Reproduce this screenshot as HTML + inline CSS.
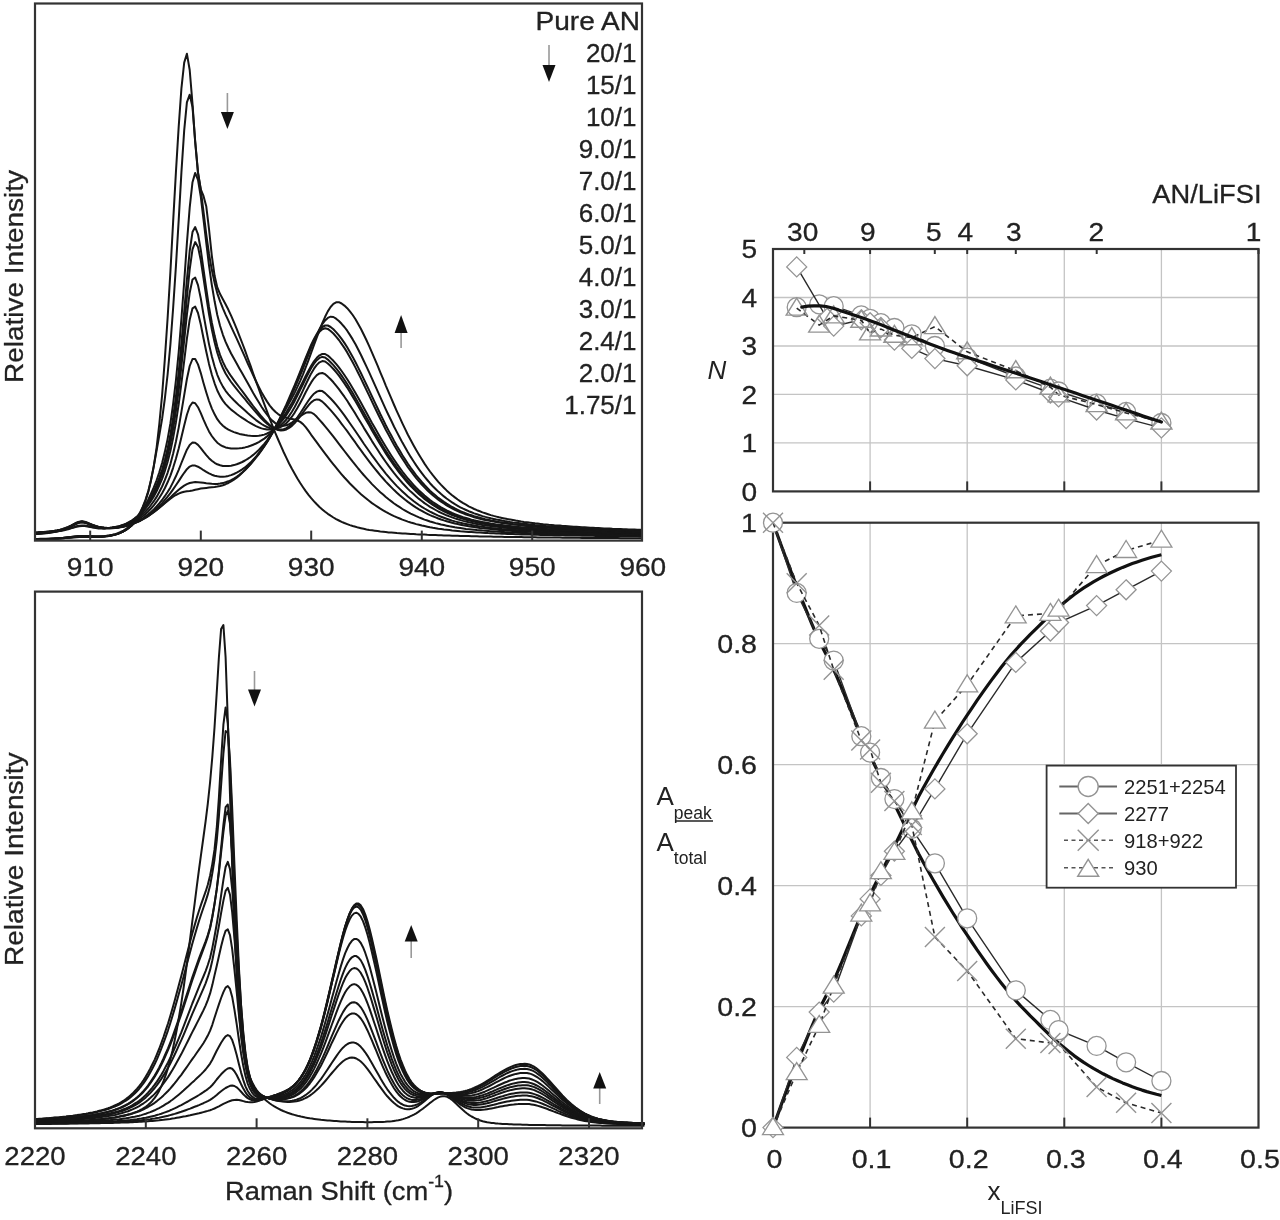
<!DOCTYPE html><html><head><meta charset="utf-8"><title>Raman spectra of AN/LiFSI solutions</title>
<style>html,body{margin:0;padding:0;background:#fff;}svg{display:block;}</style></head><body>
<svg width="1280" height="1220" viewBox="0 0 1280 1220" font-family="'Liberation Sans', Arial, Helvetica, sans-serif">
<rect x="0" y="0" width="1280" height="1220" fill="#fff"/>
<g fill="none" stroke="#161616" stroke-width="2.0" stroke-linejoin="round">
<path d="M35.0 538.9L37.8 538.9L40.5 538.8L43.3 538.8L46.0 538.7L48.8 538.7L51.6 538.6L54.3 538.5L57.1 538.4L59.9 538.3L62.6 538.2L65.4 538.0L68.2 537.8L70.9 537.6L73.7 537.4L76.4 537.2L79.2 537.0L82.0 536.9L84.7 536.8L87.5 536.9L90.2 537.0L93.0 537.0L95.8 537.0L98.5 537.0L101.3 536.8L104.1 536.6L106.8 536.3L109.6 535.9L112.4 535.4L115.1 534.7L117.9 533.8L120.6 532.7L123.4 531.4L126.2 529.7L128.9 527.6L131.7 525.1L134.4 522.0L137.2 518.2L140.0 513.5L142.7 507.8L145.5 500.8L148.3 491.9L151.0 480.5L153.8 466.1L156.6 447.6L159.3 424.2L162.1 395.1L164.8 359.7L167.6 318.3L170.4 271.9L173.1 222.3L175.9 172.6L178.7 126.6L181.4 88.6L184.2 62.6L186.9 53.7L189.7 70.0L192.5 103.8L195.2 142.2L198.0 173.1L200.8 189.5L203.5 195.9L206.3 206.6L209.0 229.0L211.8 255.6L214.6 275.8L217.3 287.5L220.1 294.1L222.9 299.2L225.6 304.3L228.4 309.8L231.1 315.7L233.9 322.1L236.7 328.8L239.4 335.8L242.2 343.0L245.0 350.4L247.7 358.0L250.5 365.7L253.2 373.5L256.0 381.3L258.8 389.0L261.5 396.7L264.3 404.2L267.1 411.7L269.8 418.9L272.6 426.0L275.3 432.9L278.1 439.5L280.9 445.9L283.6 452.0L286.4 457.9L289.1 463.5L291.9 468.8L294.7 473.8L297.4 478.5L300.2 483.0L303.0 487.2L305.7 491.1L308.5 494.8L311.2 498.2L314.0 501.3L316.8 504.3L319.5 507.0L322.3 509.4L325.1 511.7L327.8 513.8L330.6 515.7L333.4 517.5L336.1 519.1L338.9 520.5L341.6 521.8L344.4 523.0L347.2 524.1L349.9 525.1L352.7 526.0L355.5 526.8L358.2 527.6L361.0 528.2L363.7 528.8L366.5 529.4L369.3 529.9L372.0 530.3L374.8 530.7L377.6 531.1L380.3 531.5L383.1 531.8L385.8 532.1L388.6 532.4L391.4 532.6L394.1 532.8L396.9 533.1L399.7 533.3L402.4 533.5L405.2 533.6L407.9 533.8L410.7 534.0L413.5 534.1L416.2 534.3L419.0 534.4L421.8 534.5L424.5 534.6L427.3 534.8L430.0 534.9L432.8 535.0L435.6 535.1L438.3 535.2L441.1 535.3L443.9 535.4L446.6 535.5L449.4 535.6L452.1 535.7L454.9 535.7L457.7 535.8L460.4 535.9L463.2 536.0L466.0 536.0L468.7 536.1L471.5 536.2L474.2 536.3L477.0 536.3L479.8 536.4L482.5 536.4L485.3 536.5L488.1 536.6L490.8 536.6L493.6 536.7L496.3 536.7L499.1 536.8L501.9 536.8L504.6 536.9L507.4 536.9L510.2 537.0L512.9 537.0L515.7 537.1L518.4 537.1L521.2 537.1L524.0 537.2L526.7 537.2L529.5 537.3L532.2 537.3L535.0 537.3L537.8 537.4L540.5 537.4L543.3 537.4L546.1 537.5L548.8 537.5L551.6 537.5L554.4 537.6L557.1 537.6L559.9 537.6L562.6 537.7L565.4 537.7L568.2 537.7L570.9 537.8L573.7 537.8L576.5 537.8L579.2 537.8L582.0 537.9L584.7 537.9L587.5 537.9L590.3 537.9L593.0 538.0L595.8 538.0L598.6 538.0L601.3 538.0L604.1 538.0L606.8 538.1L609.6 538.1L612.4 538.1L615.1 538.1L617.9 538.1L620.7 538.2L623.4 538.2L626.2 538.2L628.9 538.2L631.7 538.2L634.5 538.3L637.2 538.3L640.0 538.3L642.8 538.3"/>
<path d="M35.0 539.5L37.8 539.5L40.5 539.4L43.3 539.3L46.0 539.2L48.8 539.1L51.6 539.0L54.3 538.8L57.1 538.7L59.9 538.5L62.6 538.3L65.4 538.0L68.2 537.7L70.9 537.4L73.7 537.0L76.4 536.7L79.2 536.4L82.0 536.3L84.7 536.3L87.5 536.4L90.2 536.5L93.0 536.6L95.8 536.6L98.5 536.5L101.3 536.4L104.1 536.2L106.8 535.8L109.6 535.4L112.4 534.8L115.1 534.1L117.9 533.2L120.6 532.0L123.4 530.6L126.2 528.9L128.9 526.8L131.7 524.2L134.4 521.1L137.2 517.3L140.0 512.6L142.7 506.9L145.5 499.9L148.3 491.0L151.0 479.9L153.8 466.1L156.6 450.5L159.3 435.3L162.1 418.9L164.8 399.0L167.6 374.5L170.4 344.5L173.1 308.5L175.9 266.6L178.7 220.1L181.4 172.6L184.2 130.4L186.9 102.4L189.7 94.7L192.5 107.0L195.2 141.3L198.0 172.2L200.8 189.9L203.5 211.7L206.3 234.5L209.0 253.7L211.8 269.8L214.6 282.9L217.3 293.3L220.1 301.3L222.9 308.3L225.6 314.6L228.4 320.7L231.1 326.7L233.9 332.6L236.7 338.6L239.4 344.7L242.2 350.9L245.0 357.1L247.7 363.3L250.5 369.4L253.2 375.4L256.0 381.2L258.8 386.9L261.5 392.2L264.3 397.1L267.1 401.6L269.8 405.6L272.6 409.0L275.3 411.8L278.1 414.1L280.9 415.8L283.6 417.0L286.4 417.8L289.1 418.4L291.9 418.9L294.7 419.5L297.4 420.5L300.2 421.9L303.0 424.1L305.7 427.1L308.5 430.9L311.2 434.8L314.0 438.6L316.8 442.4L319.5 446.2L322.3 449.9L325.1 453.6L327.8 457.2L330.6 460.8L333.4 464.3L336.1 467.7L338.9 471.1L341.6 474.3L344.4 477.5L347.2 480.5L349.9 483.5L352.7 486.3L355.5 489.0L358.2 491.6L361.0 494.2L363.7 496.5L366.5 498.8L369.3 501.0L372.0 503.1L374.8 505.0L377.6 506.9L380.3 508.7L383.1 510.3L385.8 511.9L388.6 513.4L391.4 514.8L394.1 516.1L396.9 517.3L399.7 518.5L402.4 519.6L405.2 520.6L407.9 521.6L410.7 522.5L413.5 523.3L416.2 524.1L419.0 524.8L421.8 525.5L424.5 526.1L427.3 526.7L430.0 527.3L432.8 527.8L435.6 528.2L438.3 528.7L441.1 529.1L443.9 529.5L446.6 529.8L449.4 530.1L452.1 530.5L454.9 530.7L457.7 531.0L460.4 531.3L463.2 531.5L466.0 531.7L468.7 531.9L471.5 532.1L474.2 532.3L477.0 532.5L479.8 532.6L482.5 532.8L485.3 532.9L488.1 533.1L490.8 533.2L493.6 533.3L496.3 533.5L499.1 533.6L501.9 533.7L504.6 533.8L507.4 533.9L510.2 534.0L512.9 534.1L515.7 534.2L518.4 534.3L521.2 534.4L524.0 534.4L526.7 534.5L529.5 534.6L532.2 534.7L535.0 534.7L537.8 534.8L540.5 534.9L543.3 534.9L546.1 535.0L548.8 535.1L551.6 535.1L554.4 535.2L557.1 535.2L559.9 535.3L562.6 535.3L565.4 535.4L568.2 535.4L570.9 535.5L573.7 535.5L576.5 535.6L579.2 535.6L582.0 535.7L584.7 535.7L587.5 535.7L590.3 535.8L593.0 535.8L595.8 535.9L598.6 535.9L601.3 535.9L604.1 536.0L606.8 536.0L609.6 536.0L612.4 536.1L615.1 536.1L617.9 536.1L620.7 536.2L623.4 536.2L626.2 536.2L628.9 536.3L631.7 536.3L634.5 536.3L637.2 536.3L640.0 536.4L642.8 536.4"/>
<path d="M35.0 539.6L37.8 539.5L40.5 539.4L43.3 539.4L46.0 539.3L48.8 539.2L51.6 539.0L54.3 538.9L57.1 538.7L59.9 538.6L62.6 538.3L65.4 538.1L68.2 537.8L70.9 537.5L73.7 537.1L76.4 536.8L79.2 536.5L82.0 536.4L84.7 536.4L87.5 536.5L90.2 536.6L93.0 536.7L95.8 536.8L98.5 536.8L101.3 536.7L104.1 536.5L106.8 536.2L109.6 535.8L112.4 535.3L115.1 534.6L117.9 533.7L120.6 532.6L123.4 531.3L126.2 529.7L128.9 527.7L131.7 525.3L134.4 522.4L137.2 518.9L140.0 514.9L142.7 510.2L145.5 505.0L148.3 499.5L151.0 493.7L153.8 487.4L156.6 480.3L159.3 472.3L162.1 463.0L164.8 452.1L167.6 439.1L170.4 423.4L173.1 404.1L175.9 380.5L178.7 352.1L181.4 318.9L184.2 281.8L186.9 243.1L189.7 207.6L192.5 182.2L195.2 172.9L198.0 179.8L200.8 196.9L203.5 219.3L206.3 243.1L209.0 265.3L211.8 284.8L214.6 301.3L217.3 315.0L220.1 326.0L222.9 334.8L225.6 341.9L228.4 348.0L231.1 353.5L233.9 358.6L236.7 363.5L239.4 368.4L242.2 373.3L245.0 378.2L247.7 383.1L250.5 388.0L253.2 392.9L256.0 397.7L258.8 402.3L261.5 406.8L264.3 410.9L267.1 414.7L269.8 418.1L272.6 420.9L275.3 423.1L278.1 424.7L280.9 425.6L283.6 425.8L286.4 425.3L289.1 424.2L291.9 422.6L294.7 420.6L297.4 418.4L300.2 416.2L303.0 414.3L305.7 412.8L308.5 412.2L311.2 412.5L314.0 414.1L316.8 416.8L319.5 419.8L322.3 423.0L325.1 426.3L327.8 429.6L330.6 433.1L333.4 436.6L336.1 440.2L338.9 443.8L341.6 447.4L344.4 451.0L347.2 454.6L349.9 458.1L352.7 461.7L355.5 465.1L358.2 468.5L361.0 471.8L363.7 475.0L366.5 478.1L369.3 481.2L372.0 484.1L374.8 486.9L377.6 489.6L380.3 492.2L383.1 494.6L385.8 497.0L388.6 499.3L391.4 501.4L394.1 503.5L396.9 505.4L399.7 507.2L402.4 509.0L405.2 510.6L407.9 512.1L410.7 513.6L413.5 514.9L416.2 516.2L419.0 517.4L421.8 518.5L424.5 519.6L427.3 520.5L430.0 521.5L432.8 522.3L435.6 523.1L438.3 523.8L441.1 524.5L443.9 525.1L446.6 525.7L449.4 526.3L452.1 526.8L454.9 527.3L457.7 527.7L460.4 528.1L463.2 528.5L466.0 528.9L468.7 529.2L471.5 529.5L474.2 529.8L477.0 530.1L479.8 530.3L482.5 530.6L485.3 530.8L488.1 531.0L490.8 531.2L493.6 531.4L496.3 531.6L499.1 531.8L501.9 531.9L504.6 532.1L507.4 532.2L510.2 532.4L512.9 532.5L515.7 532.6L518.4 532.8L521.2 532.9L524.0 533.0L526.7 533.1L529.5 533.2L532.2 533.3L535.0 533.4L537.8 533.5L540.5 533.6L543.3 533.7L546.1 533.8L548.8 533.9L551.6 534.0L554.4 534.0L557.1 534.1L559.9 534.2L562.6 534.3L565.4 534.3L568.2 534.4L570.9 534.5L573.7 534.5L576.5 534.6L579.2 534.6L582.0 534.7L584.7 534.8L587.5 534.8L590.3 534.9L593.0 534.9L595.8 535.0L598.6 535.0L601.3 535.1L604.1 535.1L606.8 535.2L609.6 535.2L612.4 535.3L615.1 535.3L617.9 535.3L620.7 535.4L623.4 535.4L626.2 535.5L628.9 535.5L631.7 535.5L634.5 535.6L637.2 535.6L640.0 535.6L642.8 535.7"/>
<path d="M35.0 539.4L37.8 539.3L40.5 539.2L43.3 539.1L46.0 539.0L48.8 538.9L51.6 538.7L54.3 538.6L57.1 538.4L59.9 538.2L62.6 537.9L65.4 537.6L68.2 537.3L70.9 537.0L73.7 536.7L76.4 536.4L79.2 536.1L82.0 536.0L84.7 536.0L87.5 536.1L90.2 536.2L93.0 536.4L95.8 536.4L98.5 536.5L101.3 536.4L104.1 536.2L106.8 536.0L109.6 535.6L112.4 535.1L115.1 534.5L117.9 533.6L120.6 532.6L123.4 531.3L126.2 529.7L128.9 527.8L131.7 525.4L134.4 522.6L137.2 519.3L140.0 515.5L142.7 511.3L145.5 506.7L148.3 501.9L151.0 496.9L153.8 491.3L156.6 485.0L159.3 477.9L162.1 469.6L164.8 459.9L167.6 448.4L170.4 434.4L173.1 417.4L175.9 396.7L178.7 371.9L181.4 343.3L184.2 311.7L186.9 279.5L189.7 251.0L192.5 232.1L195.2 227.1L198.0 234.3L200.8 249.9L203.5 269.3L206.3 288.9L209.0 306.9L211.8 322.5L214.6 335.6L217.3 346.5L220.1 355.1L222.9 361.9L225.6 367.4L228.4 372.1L231.1 376.2L233.9 380.1L236.7 383.9L239.4 387.5L242.2 391.2L245.0 394.9L247.7 398.6L250.5 402.3L253.2 406.0L256.0 409.6L258.8 413.1L261.5 416.5L264.3 419.6L267.1 422.5L269.8 425.1L272.6 427.2L275.3 428.9L278.1 430.0L280.9 430.4L283.6 430.3L286.4 429.5L289.1 428.0L291.9 425.9L294.7 423.1L297.4 419.9L300.2 416.3L303.0 412.5L305.7 408.8L308.5 405.3L311.2 402.4L314.0 400.3L316.8 399.4L319.5 399.8L322.3 401.6L325.1 404.3L327.8 407.1L330.6 410.2L333.4 413.4L336.1 416.7L338.9 420.2L341.6 423.8L344.4 427.5L347.2 431.2L349.9 435.0L352.7 438.9L355.5 442.7L358.2 446.6L361.0 450.4L363.7 454.2L366.5 457.9L369.3 461.6L372.0 465.1L374.8 468.6L377.6 472.0L380.3 475.3L383.1 478.5L385.8 481.6L388.6 484.5L391.4 487.4L394.1 490.1L396.9 492.7L399.7 495.2L402.4 497.5L405.2 499.8L407.9 501.9L410.7 503.9L413.5 505.8L416.2 507.6L419.0 509.3L421.8 510.9L424.5 512.4L427.3 513.8L430.0 515.1L432.8 516.3L435.6 517.4L438.3 518.5L441.1 519.5L443.9 520.4L446.6 521.2L449.4 522.0L452.1 522.8L454.9 523.5L457.7 524.1L460.4 524.7L463.2 525.3L466.0 525.8L468.7 526.3L471.5 526.7L474.2 527.1L477.0 527.5L479.8 527.9L482.5 528.2L485.3 528.5L488.1 528.8L490.8 529.1L493.6 529.4L496.3 529.6L499.1 529.9L501.9 530.1L504.6 530.3L507.4 530.5L510.2 530.7L512.9 530.9L515.7 531.0L518.4 531.2L521.2 531.4L524.0 531.5L526.7 531.7L529.5 531.8L532.2 531.9L535.0 532.1L537.8 532.2L540.5 532.3L543.3 532.4L546.1 532.6L548.8 532.7L551.6 532.8L554.4 532.9L557.1 533.0L559.9 533.1L562.6 533.2L565.4 533.2L568.2 533.3L570.9 533.4L573.7 533.5L576.5 533.6L579.2 533.7L582.0 533.7L584.7 533.8L587.5 533.9L590.3 533.9L593.0 534.0L595.8 534.1L598.6 534.1L601.3 534.2L604.1 534.3L606.8 534.3L609.6 534.4L612.4 534.4L615.1 534.5L617.9 534.5L620.7 534.6L623.4 534.6L626.2 534.7L628.9 534.7L631.7 534.8L634.5 534.8L637.2 534.9L640.0 534.9L642.8 534.9"/>
<path d="M35.0 539.3L37.8 539.2L40.5 539.1L43.3 539.0L46.0 538.9L48.8 538.8L51.6 538.7L54.3 538.5L57.1 538.3L59.9 538.1L62.6 537.9L65.4 537.6L68.2 537.3L70.9 537.0L73.7 536.6L76.4 536.3L79.2 536.1L82.0 536.0L84.7 536.0L87.5 536.1L90.2 536.2L93.0 536.3L95.8 536.4L98.5 536.4L101.3 536.4L104.1 536.2L106.8 535.9L109.6 535.6L112.4 535.1L115.1 534.4L117.9 533.6L120.6 532.6L123.4 531.3L126.2 529.7L128.9 527.8L131.7 525.5L134.4 522.7L137.2 519.5L140.0 515.8L142.7 511.7L145.5 507.4L148.3 502.9L151.0 498.1L153.8 492.8L156.6 486.9L159.3 480.1L162.1 472.4L164.8 463.4L167.6 452.7L170.4 439.9L173.1 424.4L175.9 405.5L178.7 383.0L181.4 356.7L184.2 327.5L186.9 297.1L189.7 269.3L192.5 249.4L195.2 242.1L198.0 246.9L200.8 260.4L203.5 278.2L206.3 296.8L209.0 314.1L211.8 329.3L214.6 342.2L217.3 352.8L220.1 361.3L222.9 368.0L225.6 373.5L228.4 378.0L231.1 382.0L233.9 385.6L236.7 389.1L239.4 392.5L242.2 395.9L245.0 399.2L247.7 402.6L250.5 405.9L253.2 409.2L256.0 412.4L258.8 415.5L261.5 418.5L264.3 421.2L267.1 423.7L269.8 425.8L272.6 427.6L275.3 428.8L278.1 429.5L280.9 429.6L283.6 429.2L286.4 428.1L289.1 426.3L291.9 423.9L294.7 420.9L297.4 417.3L300.2 413.3L303.0 409.0L305.7 404.7L308.5 400.5L311.2 396.8L314.0 393.7L316.8 391.6L319.5 390.7L322.3 391.1L325.1 393.1L327.8 395.7L330.6 398.5L333.4 401.5L336.1 404.7L338.9 408.2L341.6 411.7L344.4 415.4L347.2 419.3L349.9 423.2L352.7 427.2L355.5 431.3L358.2 435.3L361.0 439.4L363.7 443.5L366.5 447.5L369.3 451.5L372.0 455.4L374.8 459.2L377.6 463.0L380.3 466.6L383.1 470.2L385.8 473.6L388.6 476.9L391.4 480.1L394.1 483.1L396.9 486.1L399.7 488.9L402.4 491.5L405.2 494.1L407.9 496.5L410.7 498.8L413.5 501.0L416.2 503.0L419.0 505.0L421.8 506.8L424.5 508.5L427.3 510.1L430.0 511.6L432.8 513.0L435.6 514.3L438.3 515.6L441.1 516.7L443.9 517.8L446.6 518.8L449.4 519.7L452.1 520.6L454.9 521.4L457.7 522.1L460.4 522.8L463.2 523.4L466.0 524.0L468.7 524.6L471.5 525.1L474.2 525.6L477.0 526.0L479.8 526.5L482.5 526.8L485.3 527.2L488.1 527.6L490.8 527.9L493.6 528.2L496.3 528.5L499.1 528.7L501.9 529.0L504.6 529.2L507.4 529.5L510.2 529.7L512.9 529.9L515.7 530.1L518.4 530.3L521.2 530.5L524.0 530.6L526.7 530.8L529.5 530.9L532.2 531.1L535.0 531.2L537.8 531.4L540.5 531.5L543.3 531.7L546.1 531.8L548.8 531.9L551.6 532.0L554.4 532.1L557.1 532.2L559.9 532.3L562.6 532.4L565.4 532.5L568.2 532.6L570.9 532.7L573.7 532.8L576.5 532.9L579.2 533.0L582.0 533.1L584.7 533.2L587.5 533.2L590.3 533.3L593.0 533.4L595.8 533.5L598.6 533.5L601.3 533.6L604.1 533.7L606.8 533.7L609.6 533.8L612.4 533.9L615.1 533.9L617.9 534.0L620.7 534.0L623.4 534.1L626.2 534.1L628.9 534.2L631.7 534.2L634.5 534.3L637.2 534.3L640.0 534.4L642.8 534.4"/>
<path d="M35.0 534.0L37.8 533.9L40.5 533.7L43.3 533.4L46.0 533.2L48.8 532.9L51.6 532.5L54.3 532.1L57.1 531.6L59.9 530.9L62.6 530.2L65.4 529.2L68.2 528.1L70.9 526.7L73.7 525.2L76.4 523.8L79.2 522.7L82.0 522.3L84.7 522.7L87.5 523.6L90.2 524.8L93.0 525.8L95.8 526.7L98.5 527.4L101.3 527.8L104.1 528.0L106.8 528.1L109.6 527.9L112.4 527.6L115.1 527.2L117.9 526.6L120.6 525.8L123.4 524.8L126.2 523.6L128.9 522.2L131.7 520.6L134.4 518.6L137.2 516.3L140.0 513.7L142.7 510.7L145.5 507.3L148.3 503.4L151.0 499.0L153.8 494.0L156.6 488.4L159.3 482.0L162.1 474.7L164.8 466.1L167.6 455.9L170.4 443.7L173.1 429.0L175.9 411.2L178.7 390.3L181.4 366.4L184.2 340.4L186.9 314.6L189.7 292.7L192.5 279.5L195.2 277.6L198.0 285.1L200.8 298.5L203.5 314.3L206.3 329.9L209.0 344.1L211.8 356.3L214.6 366.5L217.3 374.8L220.1 381.4L222.9 386.6L225.6 390.8L228.4 394.3L231.1 397.4L233.9 400.3L236.7 403.0L239.4 405.6L242.2 408.1L245.0 410.6L247.7 413.1L250.5 415.5L253.2 417.8L256.0 420.1L258.8 422.1L261.5 424.0L264.3 425.7L267.1 427.0L269.8 428.0L272.6 428.5L275.3 428.6L278.1 428.0L280.9 426.9L283.6 425.3L286.4 423.0L289.1 420.2L291.9 416.7L294.7 412.6L297.4 408.0L300.2 402.9L303.0 397.7L305.7 392.3L308.5 387.1L311.2 382.4L314.0 378.3L316.8 375.2L319.5 373.4L322.3 373.0L325.1 374.2L327.8 376.6L330.6 379.3L333.4 382.3L336.1 385.6L338.9 389.1L341.6 392.8L344.4 396.7L347.2 400.8L349.9 405.1L352.7 409.5L355.5 413.9L358.2 418.4L361.0 423.0L363.7 427.6L366.5 432.1L369.3 436.6L372.0 441.1L374.8 445.5L377.6 449.8L380.3 454.0L383.1 458.1L385.8 462.0L388.6 465.9L391.4 469.6L394.1 473.2L396.9 476.6L399.7 479.9L402.4 483.0L405.2 486.0L407.9 488.9L410.7 491.6L413.5 494.1L416.2 496.6L419.0 498.9L421.8 501.0L424.5 503.1L427.3 505.0L430.0 506.8L432.8 508.4L435.6 510.0L438.3 511.5L441.1 512.8L443.9 514.1L446.6 515.3L449.4 516.4L452.1 517.4L454.9 518.4L457.7 519.3L460.4 520.1L463.2 520.9L466.0 521.6L468.7 522.2L471.5 522.8L474.2 523.4L477.0 523.9L479.8 524.4L482.5 524.9L485.3 525.3L488.1 525.7L490.8 526.1L493.6 526.5L496.3 526.8L499.1 527.1L501.9 527.4L504.6 527.7L507.4 528.0L510.2 528.3L512.9 528.5L515.7 528.7L518.4 528.9L521.2 529.2L524.0 529.4L526.7 529.5L529.5 529.7L532.2 529.9L535.0 530.1L537.8 530.2L540.5 530.4L543.3 530.6L546.1 530.7L548.8 530.8L551.6 531.0L554.4 531.1L557.1 531.2L559.9 531.4L562.6 531.5L565.4 531.6L568.2 531.7L570.9 531.8L573.7 531.9L576.5 532.0L579.2 532.1L582.0 532.2L584.7 532.3L587.5 532.4L590.3 532.5L593.0 532.6L595.8 532.7L598.6 532.7L601.3 532.8L604.1 532.9L606.8 533.0L609.6 533.0L612.4 533.1L615.1 533.2L617.9 533.2L620.7 533.3L623.4 533.4L626.2 533.4L628.9 533.5L631.7 533.5L634.5 533.6L637.2 533.7L640.0 533.7L642.8 533.8"/>
<path d="M35.0 533.8L37.8 533.6L40.5 533.4L43.3 533.2L46.0 532.9L48.8 532.6L51.6 532.2L54.3 531.8L57.1 531.3L59.9 530.7L62.6 529.9L65.4 529.0L68.2 527.8L70.9 526.5L73.7 525.0L76.4 523.5L79.2 522.5L82.0 522.1L84.7 522.5L87.5 523.4L90.2 524.5L93.0 525.6L95.8 526.5L98.5 527.2L101.3 527.6L104.1 527.9L106.8 527.9L109.6 527.8L112.4 527.6L115.1 527.1L117.9 526.6L120.6 525.8L123.4 524.9L126.2 523.8L128.9 522.5L131.7 521.0L134.4 519.1L137.2 517.0L140.0 514.6L142.7 511.8L145.5 508.6L148.3 505.0L151.0 501.0L153.8 496.4L156.6 491.3L159.3 485.4L162.1 478.8L164.8 471.1L167.6 462.0L170.4 451.1L173.1 438.1L175.9 422.5L178.7 404.2L181.4 383.4L184.2 360.9L186.9 338.6L189.7 319.7L192.5 308.3L195.2 306.6L198.0 313.0L200.8 324.6L203.5 338.2L206.3 351.7L209.0 363.9L211.8 374.5L214.6 383.3L217.3 390.5L220.1 396.1L222.9 400.6L225.6 404.1L228.4 407.0L231.1 409.6L233.9 411.8L236.7 414.0L239.4 416.0L242.2 417.9L245.0 419.7L247.7 421.5L250.5 423.1L253.2 424.7L256.0 426.1L258.8 427.3L261.5 428.4L264.3 429.1L267.1 429.6L269.8 429.6L272.6 429.3L275.3 428.4L278.1 426.9L280.9 425.0L283.6 422.5L286.4 419.5L289.1 415.9L291.9 411.7L294.7 407.0L297.4 401.8L300.2 396.2L303.0 390.4L305.7 384.5L308.5 378.7L311.2 373.4L314.0 368.7L316.8 364.9L319.5 362.3L322.3 361.1L325.1 361.5L327.8 363.5L330.6 366.1L333.4 369.0L336.1 372.2L338.9 375.7L341.6 379.4L344.4 383.4L347.2 387.6L349.9 392.1L352.7 396.6L355.5 401.3L358.2 406.1L361.0 411.0L363.7 415.9L366.5 420.8L369.3 425.6L372.0 430.5L374.8 435.2L377.6 439.9L380.3 444.5L383.1 449.0L385.8 453.4L388.6 457.6L391.4 461.7L394.1 465.6L396.9 469.4L399.7 473.1L402.4 476.5L405.2 479.9L407.9 483.1L410.7 486.1L413.5 488.9L416.2 491.6L419.0 494.2L421.8 496.6L424.5 498.9L427.3 501.0L430.0 503.0L432.8 504.9L435.6 506.7L438.3 508.3L441.1 509.9L443.9 511.3L446.6 512.6L449.4 513.9L452.1 515.0L454.9 516.1L457.7 517.1L460.4 518.0L463.2 518.9L466.0 519.7L468.7 520.4L471.5 521.1L474.2 521.7L477.0 522.3L479.8 522.9L482.5 523.4L485.3 523.9L488.1 524.4L490.8 524.8L493.6 525.2L496.3 525.6L499.1 525.9L501.9 526.3L504.6 526.6L507.4 526.9L510.2 527.2L512.9 527.4L515.7 527.7L518.4 527.9L521.2 528.2L524.0 528.4L526.7 528.6L529.5 528.8L532.2 529.0L535.0 529.2L537.8 529.4L540.5 529.5L543.3 529.7L546.1 529.9L548.8 530.0L551.6 530.2L554.4 530.3L557.1 530.4L559.9 530.6L562.6 530.7L565.4 530.8L568.2 531.0L570.9 531.1L573.7 531.2L576.5 531.3L579.2 531.4L582.0 531.5L584.7 531.6L587.5 531.7L590.3 531.8L593.0 531.9L595.8 532.0L598.6 532.1L601.3 532.2L604.1 532.3L606.8 532.3L609.6 532.4L612.4 532.5L615.1 532.6L617.9 532.6L620.7 532.7L623.4 532.8L626.2 532.9L628.9 532.9L631.7 533.0L634.5 533.0L637.2 533.1L640.0 533.2L642.8 533.2"/>
<path d="M35.0 533.5L37.8 533.4L40.5 533.2L43.3 532.9L46.0 532.7L48.8 532.4L51.6 532.0L54.3 531.6L57.1 531.1L59.9 530.5L62.6 529.7L65.4 528.8L68.2 527.6L70.9 526.3L73.7 524.8L76.4 523.4L79.2 522.3L82.0 521.9L84.7 522.3L87.5 523.3L90.2 524.4L93.0 525.5L95.8 526.5L98.5 527.2L101.3 527.6L104.1 527.9L106.8 528.0L109.6 527.9L112.4 527.8L115.1 527.4L117.9 526.9L120.6 526.3L123.4 525.5L126.2 524.6L128.9 523.4L131.7 522.1L134.4 520.5L137.2 518.7L140.0 516.6L142.7 514.2L145.5 511.5L148.3 508.5L151.0 505.0L153.8 501.2L156.6 496.9L159.3 492.0L162.1 486.5L164.8 480.2L167.6 472.8L170.4 464.1L173.1 453.8L175.9 441.7L178.7 427.6L181.4 411.8L184.2 395.1L186.9 379.0L189.7 366.0L192.5 359.0L195.2 359.0L198.0 364.4L200.8 373.1L203.5 383.0L206.3 392.5L209.0 401.0L211.8 408.3L214.6 414.3L217.3 419.2L220.1 422.9L222.9 425.7L225.6 427.9L228.4 429.6L231.1 430.9L233.9 432.1L236.7 433.0L239.4 433.9L242.2 434.5L245.0 435.1L247.7 435.5L250.5 435.8L253.2 436.0L256.0 435.9L258.8 435.7L261.5 435.3L264.3 434.6L267.1 433.5L269.8 432.1L272.6 430.3L275.3 428.1L278.1 425.4L280.9 422.2L283.6 418.8L286.4 414.9L289.1 410.6L291.9 406.0L294.7 400.9L297.4 395.6L300.2 389.9L303.0 384.2L305.7 378.5L308.5 373.0L311.2 368.0L314.0 363.6L316.8 360.2L319.5 357.9L322.3 356.9L325.1 357.5L327.8 359.6L330.6 362.2L333.4 365.1L336.1 368.3L338.9 371.9L341.6 375.7L344.4 379.7L347.2 384.0L349.9 388.5L352.7 393.1L355.5 397.9L358.2 402.7L361.0 407.7L363.7 412.6L366.5 417.6L369.3 422.6L372.0 427.5L374.8 432.4L377.6 437.1L380.3 441.8L383.1 446.4L385.8 450.9L388.6 455.2L391.4 459.4L394.1 463.4L396.9 467.3L399.7 471.1L402.4 474.6L405.2 478.1L407.9 481.3L410.7 484.4L413.5 487.4L416.2 490.2L419.0 492.8L421.8 495.3L424.5 497.6L427.3 499.8L430.0 501.9L432.8 503.8L435.6 505.6L438.3 507.3L441.1 508.9L443.9 510.4L446.6 511.7L449.4 513.0L452.1 514.2L454.9 515.3L457.7 516.3L460.4 517.3L463.2 518.2L466.0 519.0L468.7 519.8L471.5 520.5L474.2 521.1L477.0 521.7L479.8 522.3L482.5 522.8L485.3 523.3L488.1 523.8L490.8 524.3L493.6 524.7L496.3 525.1L499.1 525.4L501.9 525.8L504.6 526.1L507.4 526.4L510.2 526.7L512.9 527.0L515.7 527.2L518.4 527.5L521.2 527.7L524.0 527.9L526.7 528.2L529.5 528.4L532.2 528.6L535.0 528.8L537.8 528.9L540.5 529.1L543.3 529.3L546.1 529.5L548.8 529.6L551.6 529.8L554.4 529.9L557.1 530.1L559.9 530.2L562.6 530.3L565.4 530.5L568.2 530.6L570.9 530.7L573.7 530.8L576.5 530.9L579.2 531.0L582.0 531.2L584.7 531.3L587.5 531.4L590.3 531.5L593.0 531.6L595.8 531.6L598.6 531.7L601.3 531.8L604.1 531.9L606.8 532.0L609.6 532.1L612.4 532.2L615.1 532.2L617.9 532.3L620.7 532.4L623.4 532.4L626.2 532.5L628.9 532.6L631.7 532.7L634.5 532.7L637.2 532.8L640.0 532.8L642.8 532.9"/>
<path d="M35.0 533.3L37.8 533.1L40.5 532.9L43.3 532.7L46.0 532.4L48.8 532.1L51.6 531.8L54.3 531.4L57.1 530.9L59.9 530.2L62.6 529.5L65.4 528.5L68.2 527.4L70.9 526.1L73.7 524.6L76.4 523.2L79.2 522.1L82.0 521.8L84.7 522.2L87.5 523.1L90.2 524.3L93.0 525.4L95.8 526.3L98.5 527.1L101.3 527.6L104.1 527.9L106.8 528.0L109.6 528.0L112.4 527.8L115.1 527.6L117.9 527.2L120.6 526.6L123.4 526.0L126.2 525.1L128.9 524.2L131.7 523.0L134.4 521.6L137.2 520.1L140.0 518.3L142.7 516.2L145.5 513.9L148.3 511.4L151.0 508.5L153.8 505.3L156.6 501.7L159.3 497.7L162.1 493.2L164.8 488.2L167.6 482.3L170.4 475.6L173.1 467.8L175.9 458.7L178.7 448.5L181.4 437.2L184.2 425.6L186.9 414.8L189.7 406.5L192.5 402.5L195.2 403.2L198.0 407.2L200.8 413.2L203.5 419.7L206.3 425.9L209.0 431.4L211.8 436.0L214.6 439.7L217.3 442.7L220.1 444.8L222.9 446.3L225.6 447.4L228.4 448.0L231.1 448.4L233.9 448.6L236.7 448.5L239.4 448.3L242.2 447.9L245.0 447.4L247.7 446.7L250.5 445.8L253.2 444.7L256.0 443.5L258.8 442.1L261.5 440.4L264.3 438.6L267.1 436.4L269.8 433.9L272.6 431.1L275.3 427.9L278.1 424.4L280.9 420.5L283.6 416.4L286.4 412.2L289.1 407.6L291.9 402.9L294.7 397.8L297.4 392.5L300.2 387.0L303.0 381.4L305.7 375.9L308.5 370.6L311.2 365.7L314.0 361.3L316.8 357.8L319.5 355.3L322.3 354.0L325.1 354.0L327.8 355.6L330.6 358.1L333.4 360.8L336.1 363.9L338.9 367.3L341.6 371.0L344.4 375.0L347.2 379.2L349.9 383.6L352.7 388.2L355.5 393.0L358.2 397.8L361.0 402.8L363.7 407.8L366.5 412.8L369.3 417.9L372.0 422.9L374.8 427.8L377.6 432.7L380.3 437.5L383.1 442.3L385.8 446.8L388.6 451.3L391.4 455.7L394.1 459.8L396.9 463.9L399.7 467.8L402.4 471.5L405.2 475.1L407.9 478.5L410.7 481.7L413.5 484.8L416.2 487.7L419.0 490.5L421.8 493.1L424.5 495.5L427.3 497.8L430.0 500.0L432.8 502.0L435.6 503.9L438.3 505.7L441.1 507.4L443.9 508.9L446.6 510.4L449.4 511.7L452.1 513.0L454.9 514.1L457.7 515.2L460.4 516.2L463.2 517.2L466.0 518.0L468.7 518.8L471.5 519.6L474.2 520.3L477.0 520.9L479.8 521.5L482.5 522.1L485.3 522.6L488.1 523.1L490.8 523.6L493.6 524.0L496.3 524.4L499.1 524.8L501.9 525.1L504.6 525.5L507.4 525.8L510.2 526.1L512.9 526.4L515.7 526.7L518.4 526.9L521.2 527.2L524.0 527.4L526.7 527.6L529.5 527.9L532.2 528.1L535.0 528.3L537.8 528.5L540.5 528.6L543.3 528.8L546.1 529.0L548.8 529.2L551.6 529.3L554.4 529.5L557.1 529.6L559.9 529.8L562.6 529.9L565.4 530.0L568.2 530.2L570.9 530.3L573.7 530.4L576.5 530.5L579.2 530.6L582.0 530.8L584.7 530.9L587.5 531.0L590.3 531.1L593.0 531.2L595.8 531.3L598.6 531.4L601.3 531.4L604.1 531.5L606.8 531.6L609.6 531.7L612.4 531.8L615.1 531.9L617.9 531.9L620.7 532.0L623.4 532.1L626.2 532.2L628.9 532.2L631.7 532.3L634.5 532.4L637.2 532.4L640.0 532.5L642.8 532.5"/>
<path d="M35.0 533.0L37.8 532.8L40.5 532.7L43.3 532.4L46.0 532.2L48.8 531.9L51.6 531.5L54.3 531.1L57.1 530.6L59.9 530.0L62.6 529.2L65.4 528.3L68.2 527.2L70.9 525.8L73.7 524.4L76.4 523.0L79.2 521.9L82.0 521.6L84.7 522.0L87.5 522.9L90.2 524.1L93.0 525.3L95.8 526.2L98.5 527.0L101.3 527.5L104.1 527.8L106.8 528.0L109.6 528.0L112.4 528.0L115.1 527.7L117.9 527.4L120.6 527.0L123.4 526.4L126.2 525.7L128.9 524.9L131.7 523.9L134.4 522.8L137.2 521.5L140.0 520.0L142.7 518.3L145.5 516.4L148.3 514.3L151.0 511.9L153.8 509.4L156.6 506.5L159.3 503.4L162.1 500.0L164.8 496.2L167.6 492.0L170.4 487.4L173.1 482.1L175.9 476.3L178.7 469.8L181.4 463.0L184.2 456.1L186.9 449.7L189.7 444.9L192.5 442.6L195.2 442.8L198.0 444.9L200.8 448.1L203.5 451.7L206.3 455.1L209.0 458.2L211.8 460.7L214.6 462.8L217.3 464.3L220.1 465.3L222.9 465.9L225.6 466.1L228.4 466.0L231.1 465.7L233.9 465.1L236.7 464.3L239.4 463.2L242.2 462.0L245.0 460.5L247.7 458.9L250.5 457.0L253.2 454.9L256.0 452.5L258.8 449.9L261.5 447.0L264.3 443.9L267.1 440.4L269.8 436.5L272.6 432.3L275.3 427.6L278.1 422.6L280.9 417.2L283.6 411.6L286.4 405.8L289.1 399.8L291.9 393.5L294.7 387.0L297.4 380.2L300.2 373.2L303.0 366.2L305.7 359.2L308.5 352.4L311.2 346.1L314.0 340.4L316.8 335.5L319.5 331.7L322.3 329.3L325.1 328.3L327.8 328.9L330.6 331.0L333.4 333.5L336.1 336.6L338.9 340.0L341.6 343.8L344.4 347.9L347.2 352.4L349.9 357.2L352.7 362.3L355.5 367.6L358.2 373.0L361.0 378.6L363.7 384.3L366.5 390.1L369.3 395.9L372.0 401.7L374.8 407.5L377.6 413.2L380.3 418.8L383.1 424.3L385.8 429.7L388.6 434.9L391.4 440.1L394.1 445.0L396.9 449.8L399.7 454.4L402.4 458.8L405.2 463.0L407.9 467.1L410.7 470.9L413.5 474.6L416.2 478.1L419.0 481.4L421.8 484.5L424.5 487.4L427.3 490.2L430.0 492.8L432.8 495.3L435.6 497.5L438.3 499.7L441.1 501.7L443.9 503.5L446.6 505.3L449.4 506.9L452.1 508.4L454.9 509.8L457.7 511.1L460.4 512.3L463.2 513.4L466.0 514.5L468.7 515.4L471.5 516.3L474.2 517.2L477.0 518.0L479.8 518.7L482.5 519.4L485.3 520.0L488.1 520.6L490.8 521.1L493.6 521.6L496.3 522.1L499.1 522.6L501.9 523.0L504.6 523.4L507.4 523.8L510.2 524.1L512.9 524.5L515.7 524.8L518.4 525.1L521.2 525.4L524.0 525.7L526.7 526.0L529.5 526.2L532.2 526.5L535.0 526.7L537.8 526.9L540.5 527.1L543.3 527.3L546.1 527.5L548.8 527.7L551.6 527.9L554.4 528.1L557.1 528.3L559.9 528.5L562.6 528.6L565.4 528.8L568.2 528.9L570.9 529.1L573.7 529.2L576.5 529.4L579.2 529.5L582.0 529.6L584.7 529.7L587.5 529.9L590.3 530.0L593.0 530.1L595.8 530.2L598.6 530.3L601.3 530.4L604.1 530.5L606.8 530.6L609.6 530.7L612.4 530.8L615.1 530.9L617.9 531.0L620.7 531.1L623.4 531.2L626.2 531.3L628.9 531.3L631.7 531.4L634.5 531.5L637.2 531.6L640.0 531.6L642.8 531.7"/>
<path d="M35.0 532.7L37.8 532.6L40.5 532.4L43.3 532.1L46.0 531.9L48.8 531.6L51.6 531.2L54.3 530.8L57.1 530.3L59.9 529.7L62.6 529.0L65.4 528.0L68.2 526.9L70.9 525.6L73.7 524.1L76.4 522.7L79.2 521.7L82.0 521.3L84.7 521.7L87.5 522.7L90.2 523.9L93.0 525.0L95.8 526.0L98.5 526.7L101.3 527.3L104.1 527.6L106.8 527.8L109.6 527.9L112.4 527.8L115.1 527.6L117.9 527.3L120.6 526.9L123.4 526.4L126.2 525.8L128.9 525.0L131.7 524.1L134.4 523.1L137.2 521.9L140.0 520.6L142.7 519.0L145.5 517.3L148.3 515.4L151.0 513.4L153.8 511.1L156.6 508.6L159.3 506.0L162.1 503.1L164.8 500.0L167.6 496.7L170.4 493.2L173.1 489.4L175.9 485.3L178.7 481.1L181.4 476.9L184.2 472.8L186.9 469.2L189.7 466.6L192.5 465.4L195.2 465.6L198.0 466.7L200.8 468.3L203.5 470.2L206.3 471.9L209.0 473.4L211.8 474.7L214.6 475.7L217.3 476.3L220.1 476.7L222.9 476.7L225.6 476.4L228.4 475.9L231.1 475.1L233.9 474.0L236.7 472.7L239.4 471.2L242.2 469.4L245.0 467.4L247.7 465.1L250.5 462.6L253.2 459.8L256.0 456.8L258.8 453.5L261.5 450.0L264.3 446.1L267.1 442.0L269.8 437.5L272.6 432.7L275.3 427.5L278.1 422.0L280.9 416.2L283.6 410.3L286.4 404.3L289.1 398.1L291.9 391.7L294.7 385.2L297.4 378.5L300.2 371.6L303.0 364.6L305.7 357.8L308.5 351.1L311.2 344.7L314.0 339.0L316.8 334.0L319.5 329.9L322.3 327.0L325.1 325.5L327.8 325.5L330.6 327.0L333.4 329.3L336.1 332.1L338.9 335.3L341.6 338.9L344.4 342.9L347.2 347.3L349.9 352.0L352.7 356.9L355.5 362.2L358.2 367.6L361.0 373.2L363.7 378.9L366.5 384.8L369.3 390.6L372.0 396.5L374.8 402.4L377.6 408.2L380.3 414.0L383.1 419.6L385.8 425.2L388.6 430.6L391.4 435.8L394.1 440.9L396.9 445.9L399.7 450.6L402.4 455.2L405.2 459.6L407.9 463.8L410.7 467.8L413.5 471.6L416.2 475.3L419.0 478.7L421.8 482.0L424.5 485.0L427.3 487.9L430.0 490.7L432.8 493.2L435.6 495.6L438.3 497.9L441.1 499.9L443.9 501.9L446.6 503.7L449.4 505.4L452.1 507.0L454.9 508.5L457.7 509.8L460.4 511.1L463.2 512.3L466.0 513.4L468.7 514.4L471.5 515.3L474.2 516.2L477.0 517.0L479.8 517.8L482.5 518.5L485.3 519.2L488.1 519.8L490.8 520.4L493.6 520.9L496.3 521.4L499.1 521.9L501.9 522.3L504.6 522.7L507.4 523.1L510.2 523.5L512.9 523.9L515.7 524.2L518.4 524.5L521.2 524.8L524.0 525.1L526.7 525.4L529.5 525.7L532.2 525.9L535.0 526.2L537.8 526.4L540.5 526.6L543.3 526.8L546.1 527.1L548.8 527.3L551.6 527.4L554.4 527.6L557.1 527.8L559.9 528.0L562.6 528.2L565.4 528.3L568.2 528.5L570.9 528.6L573.7 528.8L576.5 528.9L579.2 529.1L582.0 529.2L584.7 529.3L587.5 529.4L590.3 529.6L593.0 529.7L595.8 529.8L598.6 529.9L601.3 530.0L604.1 530.1L606.8 530.2L609.6 530.3L612.4 530.4L615.1 530.5L617.9 530.6L620.7 530.7L623.4 530.8L626.2 530.9L628.9 531.0L631.7 531.0L634.5 531.1L637.2 531.2L640.0 531.3L642.8 531.3"/>
<path d="M35.0 532.8L37.8 532.7L40.5 532.5L43.3 532.4L46.0 532.2L48.8 532.0L51.6 531.8L54.3 531.6L57.1 531.2L59.9 530.9L62.6 530.4L65.4 529.9L68.2 529.2L70.9 528.4L73.7 527.6L76.4 526.8L79.2 526.2L82.0 525.9L84.7 526.1L87.5 526.5L90.2 527.1L93.0 527.6L95.8 528.1L98.5 528.4L101.3 528.6L104.1 528.7L106.8 528.6L109.6 528.5L112.4 528.3L115.1 528.0L117.9 527.7L120.6 527.2L123.4 526.7L126.2 526.0L128.9 525.3L131.7 524.4L134.4 523.4L137.2 522.2L140.0 521.0L142.7 519.5L145.5 517.9L148.3 516.2L151.0 514.3L153.8 512.2L156.6 510.0L159.3 507.7L162.1 505.3L164.8 502.7L167.6 500.1L170.4 497.4L173.1 494.8L175.9 492.3L178.7 489.8L181.4 487.6L184.2 485.7L186.9 484.1L189.7 483.0L192.5 482.4L195.2 482.1L198.0 482.2L200.8 482.4L203.5 482.8L206.3 483.2L209.0 483.5L211.8 483.8L214.6 483.9L217.3 483.9L220.1 483.6L222.9 483.1L225.6 482.3L228.4 481.3L231.1 480.1L233.9 478.6L236.7 476.8L239.4 474.8L242.2 472.5L245.0 470.0L247.7 467.3L250.5 464.3L253.2 461.1L256.0 457.7L258.8 454.1L261.5 450.3L264.3 446.2L267.1 441.9L269.8 437.4L272.6 432.6L275.3 427.6L278.1 422.2L280.9 416.7L283.6 411.2L286.4 405.7L289.1 400.1L291.9 394.3L294.7 388.2L297.4 381.9L300.2 375.4L303.0 368.6L305.7 361.7L308.5 354.7L311.2 347.7L314.0 341.0L316.8 334.8L319.5 329.1L322.3 324.2L325.1 320.4L327.8 317.9L330.6 316.7L333.4 317.0L336.1 318.7L338.9 321.0L341.6 323.8L344.4 327.0L347.2 330.7L349.9 334.9L352.7 339.4L355.5 344.3L358.2 349.5L361.0 355.0L363.7 360.7L366.5 366.6L369.3 372.6L372.0 378.7L374.8 384.9L377.6 391.1L380.3 397.2L383.1 403.3L385.8 409.3L388.6 415.2L391.4 421.0L394.1 426.7L396.9 432.1L399.7 437.5L402.4 442.6L405.2 447.6L407.9 452.3L410.7 456.9L413.5 461.2L416.2 465.4L419.0 469.3L421.8 473.1L424.5 476.7L427.3 480.0L430.0 483.2L432.8 486.2L435.6 489.0L438.3 491.6L441.1 494.1L443.9 496.4L446.6 498.5L449.4 500.5L452.1 502.4L454.9 504.2L457.7 505.8L460.4 507.3L463.2 508.7L466.0 510.0L468.7 511.2L471.5 512.3L474.2 513.4L477.0 514.3L479.8 515.2L482.5 516.1L485.3 516.9L488.1 517.6L490.8 518.3L493.6 518.9L496.3 519.5L499.1 520.0L501.9 520.6L504.6 521.1L507.4 521.5L510.2 522.0L512.9 522.4L515.7 522.7L518.4 523.1L521.2 523.5L524.0 523.8L526.7 524.1L529.5 524.4L532.2 524.7L535.0 525.0L537.8 525.2L540.5 525.5L543.3 525.7L546.1 526.0L548.8 526.2L551.6 526.4L554.4 526.6L557.1 526.8L559.9 527.0L562.6 527.2L565.4 527.4L568.2 527.6L570.9 527.7L573.7 527.9L576.5 528.0L579.2 528.2L582.0 528.3L584.7 528.5L587.5 528.6L590.3 528.8L593.0 528.9L595.8 529.0L598.6 529.1L601.3 529.3L604.1 529.4L606.8 529.5L609.6 529.6L612.4 529.7L615.1 529.8L617.9 529.9L620.7 530.0L623.4 530.1L626.2 530.2L628.9 530.3L631.7 530.4L634.5 530.5L637.2 530.6L640.0 530.6L642.8 530.7"/>
<path d="M35.0 532.4L37.8 532.3L40.5 532.1L43.3 532.0L46.0 531.8L48.8 531.6L51.6 531.4L54.3 531.1L57.1 530.8L59.9 530.4L62.6 530.0L65.4 529.4L68.2 528.8L70.9 528.0L73.7 527.2L76.4 526.3L79.2 525.7L82.0 525.4L84.7 525.6L87.5 526.1L90.2 526.6L93.0 527.2L95.8 527.6L98.5 527.9L101.3 528.1L104.1 528.2L106.8 528.1L109.6 528.0L112.4 527.8L115.1 527.5L117.9 527.2L120.6 526.7L123.4 526.2L126.2 525.5L128.9 524.8L131.7 523.9L134.4 522.9L137.2 521.8L140.0 520.5L142.7 519.1L145.5 517.5L148.3 515.8L151.0 514.0L153.8 512.0L156.6 509.9L159.3 507.7L162.1 505.4L164.8 503.2L167.6 500.9L170.4 498.7L173.1 496.7L175.9 495.0L178.7 493.6L181.4 492.5L184.2 491.7L186.9 491.3L189.7 490.9L192.5 490.4L195.2 489.8L198.0 489.2L200.8 488.6L203.5 488.2L206.3 487.9L209.0 487.6L211.8 487.3L214.6 487.0L217.3 486.6L220.1 486.0L222.9 485.2L225.6 484.2L228.4 483.0L231.1 481.5L233.9 479.7L236.7 477.7L239.4 475.4L242.2 472.8L245.0 470.1L247.7 467.1L250.5 463.9L253.2 460.5L256.0 457.0L258.8 453.3L261.5 449.4L264.3 445.4L267.1 441.2L269.8 436.9L272.6 432.3L275.3 427.6L278.1 422.7L280.9 417.7L283.6 412.9L286.4 408.0L289.1 403.1L291.9 398.0L294.7 392.6L297.4 386.9L300.2 380.8L303.0 374.3L305.7 367.4L308.5 360.1L311.2 352.6L314.0 345.0L316.8 337.5L319.5 330.1L322.3 323.2L325.1 316.8L327.8 311.4L330.6 307.0L333.4 303.9L336.1 302.3L338.9 302.2L341.6 303.5L344.4 305.6L347.2 308.2L349.9 311.3L352.7 315.0L355.5 319.2L358.2 323.9L361.0 329.0L363.7 334.5L366.5 340.3L369.3 346.4L372.0 352.6L374.8 359.1L377.6 365.7L380.3 372.3L383.1 378.9L385.8 385.6L388.6 392.1L391.4 398.6L394.1 405.0L396.9 411.3L399.7 417.4L402.4 423.3L405.2 429.1L407.9 434.7L410.7 440.0L413.5 445.2L416.2 450.1L419.0 454.8L421.8 459.3L424.5 463.6L427.3 467.7L430.0 471.5L432.8 475.2L435.6 478.6L438.3 481.8L441.1 484.9L443.9 487.7L446.6 490.4L449.4 492.9L452.1 495.2L454.9 497.4L457.7 499.5L460.4 501.3L463.2 503.1L466.0 504.7L468.7 506.3L471.5 507.7L474.2 509.0L477.0 510.2L479.8 511.3L482.5 512.4L485.3 513.3L488.1 514.2L490.8 515.1L493.6 515.9L496.3 516.6L499.1 517.3L501.9 517.9L504.6 518.5L507.4 519.1L510.2 519.6L512.9 520.1L515.7 520.6L518.4 521.0L521.2 521.5L524.0 521.9L526.7 522.2L529.5 522.6L532.2 522.9L535.0 523.3L537.8 523.6L540.5 523.9L543.3 524.2L546.1 524.4L548.8 524.7L551.6 524.9L554.4 525.2L557.1 525.4L559.9 525.6L562.6 525.9L565.4 526.1L568.2 526.3L570.9 526.5L573.7 526.7L576.5 526.8L579.2 527.0L582.0 527.2L584.7 527.3L587.5 527.5L590.3 527.7L593.0 527.8L595.8 528.0L598.6 528.1L601.3 528.2L604.1 528.4L606.8 528.5L609.6 528.6L612.4 528.8L615.1 528.9L617.9 529.0L620.7 529.1L623.4 529.2L626.2 529.3L628.9 529.4L631.7 529.5L634.5 529.6L637.2 529.7L640.0 529.8L642.8 529.9"/>
</g>
<rect x="35" y="3.5" width="607" height="537.1" fill="none" stroke="#333" stroke-width="2.2"/>
<g stroke="#333" stroke-width="2">
<line x1="90.2" y1="540.6" x2="90.2" y2="530.6"/>
<line x1="200.8" y1="540.6" x2="200.8" y2="530.6"/>
<line x1="311.2" y1="540.6" x2="311.2" y2="530.6"/>
<line x1="421.8" y1="540.6" x2="421.8" y2="530.6"/>
<line x1="532.2" y1="540.6" x2="532.2" y2="530.6"/>
</g>
<text transform="translate(90.2,576.0) scale(1.080,1)" font-size="26" fill="#222" stroke="#222" stroke-width="0.3" text-anchor="middle">910</text>
<text transform="translate(200.8,576.0) scale(1.080,1)" font-size="26" fill="#222" stroke="#222" stroke-width="0.3" text-anchor="middle">920</text>
<text transform="translate(311.2,576.0) scale(1.080,1)" font-size="26" fill="#222" stroke="#222" stroke-width="0.3" text-anchor="middle">930</text>
<text transform="translate(421.8,576.0) scale(1.080,1)" font-size="26" fill="#222" stroke="#222" stroke-width="0.3" text-anchor="middle">940</text>
<text transform="translate(532.2,576.0) scale(1.080,1)" font-size="26" fill="#222" stroke="#222" stroke-width="0.3" text-anchor="middle">950</text>
<text transform="translate(642.8,576.0) scale(1.080,1)" font-size="26" fill="#222" stroke="#222" stroke-width="0.3" text-anchor="middle">960</text>
<text transform="translate(22.8,276.5) rotate(-90) scale(1.077,1)" font-size="26" fill="#222" stroke="#222" stroke-width="0.3" text-anchor="middle">Relative Intensity</text>
<text transform="translate(640.0,30.4) scale(1.080,1)" font-size="26" fill="#222" stroke="#222" stroke-width="0.3" text-anchor="end">Pure AN</text>
<text transform="translate(636.5,62.4) scale(1.000,1)" font-size="26" fill="#222" stroke="#222" stroke-width="0.3" text-anchor="end">20/1</text>
<text transform="translate(636.5,94.4) scale(1.000,1)" font-size="26" fill="#222" stroke="#222" stroke-width="0.3" text-anchor="end">15/1</text>
<text transform="translate(636.5,126.4) scale(1.000,1)" font-size="26" fill="#222" stroke="#222" stroke-width="0.3" text-anchor="end">10/1</text>
<text transform="translate(636.5,158.4) scale(1.000,1)" font-size="26" fill="#222" stroke="#222" stroke-width="0.3" text-anchor="end">9.0/1</text>
<text transform="translate(636.5,190.4) scale(1.000,1)" font-size="26" fill="#222" stroke="#222" stroke-width="0.3" text-anchor="end">7.0/1</text>
<text transform="translate(636.5,222.4) scale(1.000,1)" font-size="26" fill="#222" stroke="#222" stroke-width="0.3" text-anchor="end">6.0/1</text>
<text transform="translate(636.5,254.4) scale(1.000,1)" font-size="26" fill="#222" stroke="#222" stroke-width="0.3" text-anchor="end">5.0/1</text>
<text transform="translate(636.5,286.4) scale(1.000,1)" font-size="26" fill="#222" stroke="#222" stroke-width="0.3" text-anchor="end">4.0/1</text>
<text transform="translate(636.5,318.4) scale(1.000,1)" font-size="26" fill="#222" stroke="#222" stroke-width="0.3" text-anchor="end">3.0/1</text>
<text transform="translate(636.5,350.4) scale(1.000,1)" font-size="26" fill="#222" stroke="#222" stroke-width="0.3" text-anchor="end">2.4/1</text>
<text transform="translate(636.5,382.4) scale(1.000,1)" font-size="26" fill="#222" stroke="#222" stroke-width="0.3" text-anchor="end">2.0/1</text>
<text transform="translate(636.5,414.4) scale(1.000,1)" font-size="26" fill="#222" stroke="#222" stroke-width="0.3" text-anchor="end">1.75/1</text>
<line x1="549.0" y1="45.0" x2="549.0" y2="66.0" stroke="#999" stroke-width="1.6"/>
<polygon points="542.5,65.0 555.5,65.0 549.0,82.0" fill="#111"/>
<line x1="227.4" y1="93.0" x2="227.4" y2="113.0" stroke="#999" stroke-width="1.6"/>
<polygon points="220.9,112.0 233.9,112.0 227.4,129.0" fill="#111"/>
<line x1="401.1" y1="332.0" x2="401.1" y2="348.0" stroke="#999" stroke-width="1.6"/>
<polygon points="394.6,333.0 407.6,333.0 401.1,315.0" fill="#111"/>
<g fill="none" stroke="#161616" stroke-width="2.0" stroke-linejoin="round">
<path d="M35.0 1123.4L37.2 1123.3L39.4 1123.3L41.6 1123.2L43.9 1123.1L46.1 1123.0L48.3 1122.9L50.5 1122.9L52.7 1122.8L54.9 1122.7L57.2 1122.6L59.4 1122.5L61.6 1122.4L63.8 1122.2L66.0 1122.1L68.2 1122.0L70.5 1121.9L72.7 1121.7L74.9 1121.6L77.1 1121.5L79.3 1121.3L81.5 1121.1L83.8 1121.0L86.0 1120.8L88.2 1120.6L90.4 1120.4L92.6 1120.2L94.8 1120.0L97.0 1119.8L99.3 1119.5L101.5 1119.3L103.7 1119.0L105.9 1118.7L108.1 1118.4L110.3 1118.1L112.6 1117.7L114.8 1117.4L117.0 1117.0L119.2 1116.6L121.4 1116.1L123.6 1115.6L125.9 1115.1L128.1 1114.5L130.3 1113.9L132.5 1113.2L134.7 1112.4L136.9 1111.6L139.2 1110.6L141.4 1109.5L143.6 1108.2L145.8 1106.8L148.0 1105.1L150.2 1103.1L152.4 1100.7L154.7 1097.9L156.9 1094.7L159.1 1090.9L161.3 1086.4L163.5 1081.2L165.7 1075.1L168.0 1068.1L170.2 1060.1L172.4 1051.0L174.6 1040.8L176.8 1029.5L179.0 1016.9L181.3 1003.2L183.5 988.5L185.7 972.7L187.9 956.2L190.1 939.0L192.3 921.5L194.6 903.9L196.8 886.4L199.0 869.5L201.2 853.3L203.4 837.5L205.6 821.4L207.8 803.6L210.1 782.0L212.3 757.1L214.5 727.7L216.7 693.3L218.9 657.2L221.1 629.1L223.4 625.1L225.6 657.3L227.8 719.8L230.0 794.9L232.2 867.1L234.4 928.4L236.7 976.1L238.9 1010.8L241.1 1035.1L243.3 1051.7L245.5 1063.2L247.7 1071.5L250.0 1077.7L252.2 1082.6L254.4 1086.6L256.6 1090.0L258.8 1092.9L261.0 1095.5L263.2 1097.8L265.5 1099.9L267.7 1101.8L269.9 1103.5L272.1 1105.0L274.3 1106.4L276.5 1107.7L278.8 1108.9L281.0 1110.0L283.2 1111.0L285.4 1111.9L287.6 1112.8L289.8 1113.5L292.1 1114.3L294.3 1114.9L296.5 1115.5L298.7 1116.1L300.9 1116.6L303.1 1117.0L305.4 1117.5L307.6 1117.9L309.8 1118.3L312.0 1118.6L314.2 1118.9L316.4 1119.2L318.6 1119.5L320.9 1119.8L323.1 1120.0L325.3 1120.2L327.5 1120.4L329.7 1120.6L331.9 1120.8L334.2 1121.0L336.4 1121.1L338.6 1121.2L340.8 1121.4L343.0 1121.5L345.2 1121.6L347.5 1121.7L349.7 1121.8L351.9 1121.9L354.1 1121.9L356.3 1122.0L358.5 1122.1L360.8 1122.1L363.0 1122.1L365.2 1122.2L367.4 1122.2L369.6 1122.2L371.8 1122.2L374.0 1122.1L376.3 1122.1L378.5 1122.1L380.7 1122.0L382.9 1121.9L385.1 1121.8L387.3 1121.6L389.6 1121.4L391.8 1121.2L394.0 1120.9L396.2 1120.6L398.4 1120.2L400.6 1119.7L402.9 1119.1L405.1 1118.4L407.3 1117.6L409.5 1116.7L411.7 1115.7L413.9 1114.6L416.2 1113.3L418.4 1111.9L420.6 1110.3L422.8 1108.7L425.0 1107.0L427.2 1105.2L429.4 1103.4L431.7 1101.7L433.9 1100.0L436.1 1098.6L438.3 1097.4L440.5 1096.6L442.7 1096.2L445.0 1096.2L447.2 1096.8L449.4 1098.0L451.6 1099.6L453.8 1101.5L456.0 1103.5L458.3 1105.7L460.5 1107.8L462.7 1109.8L464.9 1111.7L467.1 1113.5L469.3 1115.1L471.6 1116.5L473.8 1117.7L476.0 1118.8L478.2 1119.7L480.4 1120.5L482.6 1121.2L484.8 1121.7L487.1 1122.2L489.3 1122.6L491.5 1122.9L493.7 1123.1L495.9 1123.4L498.1 1123.6L500.4 1123.7L502.6 1123.9L504.8 1124.0L507.0 1124.1L509.2 1124.2L511.4 1124.3L513.7 1124.4L515.9 1124.5L518.1 1124.6L520.3 1124.6L522.5 1124.7L524.7 1124.8L527.0 1124.8L529.2 1124.9L531.4 1124.9L533.6 1125.0L535.8 1125.0L538.0 1125.0L540.2 1125.1L542.5 1125.1L544.7 1125.1L546.9 1125.2L549.1 1125.2L551.3 1125.2L553.5 1125.3L555.8 1125.3L558.0 1125.3L560.2 1125.3L562.4 1125.4L564.6 1125.4L566.8 1125.4L569.1 1125.4L571.3 1125.4L573.5 1125.5L575.7 1125.5L577.9 1125.5L580.1 1125.5L582.4 1125.5L584.6 1125.5L586.8 1125.6L589.0 1125.6L591.2 1125.6L593.4 1125.6L595.6 1125.6L597.9 1125.6L600.1 1125.6L602.3 1125.7L604.5 1125.7L606.7 1125.7L608.9 1125.7L611.2 1125.7L613.4 1125.7L615.6 1125.7L617.8 1125.7L620.0 1125.7L622.2 1125.7L624.5 1125.7L626.7 1125.8L628.9 1125.8L631.1 1125.8L633.3 1125.8L635.5 1125.8L637.8 1125.8L640.0 1125.8L642.2 1125.8L644.4 1125.8"/>
<path d="M35.0 1119.1L37.2 1119.0L39.4 1118.8L41.6 1118.7L43.9 1118.5L46.1 1118.3L48.3 1118.2L50.5 1118.0L52.7 1117.8L54.9 1117.6L57.2 1117.4L59.4 1117.2L61.6 1116.9L63.8 1116.7L66.0 1116.5L68.2 1116.2L70.5 1115.9L72.7 1115.7L74.9 1115.4L77.1 1115.1L79.3 1114.7L81.5 1114.4L83.8 1114.0L86.0 1113.7L88.2 1113.3L90.4 1112.8L92.6 1112.4L94.8 1111.9L97.0 1111.4L99.3 1110.8L101.5 1110.3L103.7 1109.6L105.9 1108.9L108.1 1108.2L110.3 1107.4L112.6 1106.5L114.8 1105.5L117.0 1104.5L119.2 1103.3L121.4 1102.0L123.6 1100.7L125.9 1099.1L128.1 1097.4L130.3 1095.6L132.5 1093.6L134.7 1091.3L136.9 1088.9L139.2 1086.2L141.4 1083.3L143.6 1080.1L145.8 1076.6L148.0 1072.8L150.2 1068.7L152.4 1064.3L154.7 1059.6L156.9 1054.4L159.1 1049.0L161.3 1043.1L163.5 1037.0L165.7 1030.4L168.0 1023.5L170.2 1016.3L172.4 1008.7L174.6 1000.9L176.8 992.8L179.0 984.5L181.3 976.0L183.5 967.4L185.7 958.8L187.9 950.2L190.1 941.7L192.3 933.4L194.6 925.4L196.8 917.8L199.0 910.7L201.2 904.1L203.4 897.9L205.6 891.7L207.8 884.8L210.1 875.5L212.3 864.1L214.5 849.7L216.7 828.2L218.9 797.5L221.1 760.1L223.4 724.7L225.6 707.4L227.8 723.1L230.0 766.1L232.2 824.5L234.4 885.8L236.7 941.4L238.9 987.1L241.1 1021.7L243.3 1046.2L245.5 1062.7L247.7 1073.6L250.0 1080.8L252.2 1085.6L254.4 1089.0L256.6 1091.5L258.8 1093.4L261.0 1094.9L263.2 1096.1L265.5 1097.2L267.7 1098.0L269.9 1098.8L272.1 1099.4L274.3 1100.0L276.5 1100.5L278.8 1100.9L281.0 1101.3L283.2 1101.6L285.4 1101.8L287.6 1101.9L289.8 1101.9L292.1 1101.8L294.3 1101.5L296.5 1101.2L298.7 1100.7L300.9 1100.0L303.1 1099.2L305.4 1098.2L307.6 1097.0L309.8 1095.6L312.0 1094.0L314.2 1092.2L316.4 1090.3L318.6 1088.2L320.9 1085.9L323.1 1083.5L325.3 1081.0L327.5 1078.4L329.7 1075.7L331.9 1073.0L334.2 1070.4L336.4 1067.8L338.6 1065.4L340.8 1063.2L343.0 1061.3L345.2 1059.7L347.5 1058.6L349.7 1057.8L351.9 1057.5L354.1 1057.7L356.3 1058.5L358.5 1059.8L360.8 1061.5L363.0 1063.6L365.2 1066.1L367.4 1068.9L369.6 1071.9L371.8 1075.0L374.0 1078.2L376.3 1081.4L378.5 1084.6L380.7 1087.7L382.9 1090.7L385.1 1093.6L387.3 1096.3L389.6 1098.8L391.8 1101.0L394.0 1103.0L396.2 1104.8L398.4 1106.3L400.6 1107.5L402.9 1108.4L405.1 1109.0L407.3 1109.2L409.5 1109.2L411.7 1108.8L413.9 1108.1L416.2 1107.1L418.4 1105.8L420.6 1104.2L422.8 1102.5L425.0 1100.7L427.2 1098.8L429.4 1096.9L431.7 1095.2L433.9 1093.8L436.1 1092.7L438.3 1092.1L440.5 1092.0L442.7 1092.4L445.0 1093.3L447.2 1094.6L449.4 1096.1L451.6 1097.8L453.8 1099.6L456.0 1101.3L458.3 1103.0L460.5 1104.6L462.7 1106.0L464.9 1107.2L467.1 1108.1L469.3 1108.9L471.6 1109.5L473.8 1109.8L476.0 1110.0L478.2 1110.1L480.4 1110.0L482.6 1109.8L484.8 1109.6L487.1 1109.2L489.3 1108.8L491.5 1108.4L493.7 1108.0L495.9 1107.5L498.1 1107.1L500.4 1106.6L502.6 1106.2L504.8 1105.8L507.0 1105.4L509.2 1105.0L511.4 1104.7L513.7 1104.5L515.9 1104.2L518.1 1104.1L520.3 1103.9L522.5 1103.9L524.7 1103.9L527.0 1104.0L529.2 1104.1L531.4 1104.4L533.6 1104.8L535.8 1105.3L538.0 1105.9L540.2 1106.5L542.5 1107.3L544.7 1108.0L546.9 1108.8L549.1 1109.7L551.3 1110.5L553.5 1111.4L555.8 1112.2L558.0 1113.1L560.2 1113.9L562.4 1114.7L564.6 1115.5L566.8 1116.3L569.1 1117.0L571.3 1117.7L573.5 1118.3L575.7 1118.9L577.9 1119.5L580.1 1120.0L582.4 1120.5L584.6 1120.9L586.8 1121.3L589.0 1121.6L591.2 1121.9L593.4 1122.2L595.6 1122.5L597.9 1122.7L600.1 1122.9L602.3 1123.1L604.5 1123.3L606.7 1123.4L608.9 1123.5L611.2 1123.6L613.4 1123.7L615.6 1123.8L617.8 1123.9L620.0 1123.9L622.2 1124.0L624.5 1124.1L626.7 1124.1L628.9 1124.1L631.1 1124.2L633.3 1124.2L635.5 1124.3L637.8 1124.3L640.0 1124.3L642.2 1124.3L644.4 1124.4"/>
<path d="M35.0 1119.3L37.2 1119.2L39.4 1119.0L41.6 1118.9L43.9 1118.7L46.1 1118.6L48.3 1118.4L50.5 1118.2L52.7 1118.0L54.9 1117.8L57.2 1117.7L59.4 1117.4L61.6 1117.2L63.8 1117.0L66.0 1116.8L68.2 1116.5L70.5 1116.3L72.7 1116.0L74.9 1115.7L77.1 1115.5L79.3 1115.1L81.5 1114.8L83.8 1114.5L86.0 1114.1L88.2 1113.8L90.4 1113.4L92.6 1112.9L94.8 1112.5L97.0 1112.0L99.3 1111.5L101.5 1110.9L103.7 1110.3L105.9 1109.7L108.1 1109.0L110.3 1108.3L112.6 1107.4L114.8 1106.5L117.0 1105.6L119.2 1104.5L121.4 1103.3L123.6 1102.0L125.9 1100.6L128.1 1099.1L130.3 1097.4L132.5 1095.5L134.7 1093.5L136.9 1091.2L139.2 1088.7L141.4 1086.0L143.6 1083.1L145.8 1079.9L148.0 1076.4L150.2 1072.6L152.4 1068.5L154.7 1064.0L156.9 1059.3L159.1 1054.2L161.3 1048.7L163.5 1042.9L165.7 1036.8L168.0 1030.3L170.2 1023.5L172.4 1016.3L174.6 1008.9L176.8 1001.2L179.0 993.3L181.3 985.2L183.5 976.9L185.7 968.5L187.9 960.2L190.1 951.9L192.3 943.7L194.6 935.8L196.8 928.2L199.0 921.0L201.2 914.3L203.4 907.8L205.6 901.4L207.8 894.4L210.1 885.5L212.3 873.4L214.5 859.5L216.7 841.2L218.9 816.4L221.1 785.5L223.4 753.6L225.6 731.1L227.8 732.1L230.0 760.5L232.2 808.2L234.4 864.2L236.7 919.2L238.9 967.2L241.1 1005.8L243.3 1034.5L245.5 1054.8L247.7 1068.5L250.0 1077.6L252.2 1083.6L254.4 1087.8L256.6 1090.7L258.8 1092.9L261.0 1094.6L263.2 1096.0L265.5 1097.1L267.7 1098.0L269.9 1098.7L272.1 1099.4L274.3 1099.9L276.5 1100.4L278.8 1100.8L281.0 1101.0L283.2 1101.2L285.4 1101.2L287.6 1101.2L289.8 1101.0L292.1 1100.7L294.3 1100.2L296.5 1099.6L298.7 1098.8L300.9 1097.8L303.1 1096.6L305.4 1095.2L307.6 1093.5L309.8 1091.7L312.0 1089.6L314.2 1087.3L316.4 1084.8L318.6 1082.0L320.9 1079.1L323.1 1076.0L325.3 1072.8L327.5 1069.5L329.7 1066.1L331.9 1062.7L334.2 1059.4L336.4 1056.1L338.6 1053.0L340.8 1050.2L343.0 1047.7L345.2 1045.6L347.5 1044.0L349.7 1042.9L351.9 1042.4L354.1 1042.6L356.3 1043.3L358.5 1044.7L360.8 1046.8L363.0 1049.3L365.2 1052.3L367.4 1055.6L369.6 1059.2L371.8 1063.0L374.0 1066.9L376.3 1070.9L378.5 1074.8L380.7 1078.7L382.9 1082.4L385.1 1086.0L387.3 1089.3L389.6 1092.4L391.8 1095.2L394.0 1097.8L396.2 1100.0L398.4 1101.9L400.6 1103.5L402.9 1104.7L405.1 1105.6L407.3 1106.1L409.5 1106.3L411.7 1106.1L413.9 1105.6L416.2 1104.8L418.4 1103.8L420.6 1102.5L422.8 1101.1L425.0 1099.6L427.2 1098.0L429.4 1096.4L431.7 1095.0L433.9 1093.8L436.1 1092.9L438.3 1092.4L440.5 1092.3L442.7 1092.6L445.0 1093.3L447.2 1094.3L449.4 1095.6L451.6 1097.1L453.8 1098.6L456.0 1100.1L458.3 1101.6L460.5 1103.0L462.7 1104.2L464.9 1105.2L467.1 1106.0L469.3 1106.7L471.6 1107.2L473.8 1107.4L476.0 1107.5L478.2 1107.5L480.4 1107.4L482.6 1107.1L484.8 1106.7L487.1 1106.3L489.3 1105.8L491.5 1105.3L493.7 1104.8L495.9 1104.2L498.1 1103.6L500.4 1103.1L502.6 1102.6L504.8 1102.1L507.0 1101.6L509.2 1101.2L511.4 1100.8L513.7 1100.5L515.9 1100.2L518.1 1100.0L520.3 1099.8L522.5 1099.8L524.7 1099.7L527.0 1099.8L529.2 1100.0L531.4 1100.4L533.6 1100.9L535.8 1101.4L538.0 1102.1L540.2 1102.9L542.5 1103.8L544.7 1104.7L546.9 1105.7L549.1 1106.7L551.3 1107.7L553.5 1108.7L555.8 1109.7L558.0 1110.8L560.2 1111.8L562.4 1112.7L564.6 1113.7L566.8 1114.6L569.1 1115.4L571.3 1116.3L573.5 1117.0L575.7 1117.7L577.9 1118.4L580.1 1119.0L582.4 1119.6L584.6 1120.1L586.8 1120.5L589.0 1121.0L591.2 1121.4L593.4 1121.7L595.6 1122.0L597.9 1122.3L600.1 1122.5L602.3 1122.7L604.5 1122.9L606.7 1123.1L608.9 1123.2L611.2 1123.4L613.4 1123.5L615.6 1123.6L617.8 1123.7L620.0 1123.7L622.2 1123.8L624.5 1123.9L626.7 1123.9L628.9 1124.0L631.1 1124.0L633.3 1124.1L635.5 1124.1L637.8 1124.1L640.0 1124.2L642.2 1124.2L644.4 1124.2"/>
<path d="M35.0 1120.2L37.2 1120.1L39.4 1120.0L41.6 1119.9L43.9 1119.7L46.1 1119.6L48.3 1119.5L50.5 1119.3L52.7 1119.2L54.9 1119.0L57.2 1118.8L59.4 1118.7L61.6 1118.5L63.8 1118.3L66.0 1118.1L68.2 1117.9L70.5 1117.7L72.7 1117.5L74.9 1117.3L77.1 1117.0L79.3 1116.8L81.5 1116.5L83.8 1116.2L86.0 1115.9L88.2 1115.6L90.4 1115.3L92.6 1115.0L94.8 1114.6L97.0 1114.2L99.3 1113.8L101.5 1113.3L103.7 1112.8L105.9 1112.3L108.1 1111.8L110.3 1111.1L112.6 1110.5L114.8 1109.8L117.0 1109.0L119.2 1108.1L121.4 1107.2L123.6 1106.1L125.9 1105.0L128.1 1103.8L130.3 1102.4L132.5 1100.9L134.7 1099.2L136.9 1097.4L139.2 1095.4L141.4 1093.3L143.6 1090.9L145.8 1088.3L148.0 1085.5L150.2 1082.4L152.4 1079.1L154.7 1075.6L156.9 1071.7L159.1 1067.6L161.3 1063.2L163.5 1058.5L165.7 1053.5L168.0 1048.3L170.2 1042.8L172.4 1037.0L174.6 1030.9L176.8 1024.7L179.0 1018.2L181.3 1011.6L183.5 1004.8L185.7 997.9L187.9 991.1L190.1 984.2L192.3 977.4L194.6 970.8L196.8 964.5L199.0 958.4L201.2 952.6L203.4 947.0L205.6 941.3L207.8 935.0L210.1 927.2L212.3 916.5L214.5 904.1L216.7 889.4L218.9 870.7L221.1 848.2L223.4 824.9L225.6 807.2L227.8 804.5L230.0 822.1L232.2 856.0L234.4 898.6L236.7 942.3L238.9 982.0L241.1 1015.0L243.3 1040.5L245.5 1059.0L247.7 1071.8L250.0 1080.4L252.2 1086.0L254.4 1089.8L256.6 1092.4L258.8 1094.2L261.0 1095.5L263.2 1096.5L265.5 1097.3L267.7 1097.9L269.9 1098.4L272.1 1098.8L274.3 1099.1L276.5 1099.3L278.8 1099.4L281.0 1099.4L283.2 1099.3L285.4 1099.0L287.6 1098.6L289.8 1098.1L292.1 1097.4L294.3 1096.5L296.5 1095.4L298.7 1094.1L300.9 1092.5L303.1 1090.7L305.4 1088.6L307.6 1086.2L309.8 1083.5L312.0 1080.5L314.2 1077.2L316.4 1073.6L318.6 1069.8L320.9 1065.7L323.1 1061.4L325.3 1056.8L327.5 1052.2L329.7 1047.5L331.9 1042.7L334.2 1038.0L336.4 1033.4L338.6 1029.1L340.8 1025.1L343.0 1021.5L345.2 1018.4L347.5 1016.0L349.7 1014.4L351.9 1013.5L354.1 1013.4L356.3 1014.2L358.5 1016.0L360.8 1018.5L363.0 1021.8L365.2 1025.7L367.4 1030.2L369.6 1035.1L371.8 1040.2L374.0 1045.5L376.3 1050.9L378.5 1056.3L380.7 1061.6L382.9 1066.8L385.1 1071.7L387.3 1076.3L389.6 1080.6L391.8 1084.6L394.0 1088.2L396.2 1091.4L398.4 1094.2L400.6 1096.5L402.9 1098.5L405.1 1100.0L407.3 1101.1L409.5 1101.8L411.7 1102.1L413.9 1102.1L416.2 1101.8L418.4 1101.2L420.6 1100.3L422.8 1099.3L425.0 1098.1L427.2 1096.9L429.4 1095.7L431.7 1094.6L433.9 1093.7L436.1 1093.0L438.3 1092.6L440.5 1092.5L442.7 1092.7L445.0 1093.3L447.2 1094.2L449.4 1095.2L451.6 1096.5L453.8 1097.7L456.0 1099.0L458.3 1100.2L460.5 1101.4L462.7 1102.4L464.9 1103.2L467.1 1103.9L469.3 1104.4L471.6 1104.8L473.8 1104.9L476.0 1105.0L478.2 1104.8L480.4 1104.6L482.6 1104.2L484.8 1103.8L487.1 1103.3L489.3 1102.7L491.5 1102.1L493.7 1101.4L495.9 1100.8L498.1 1100.1L500.4 1099.5L502.6 1098.9L504.8 1098.3L507.0 1097.7L509.2 1097.2L511.4 1096.8L513.7 1096.4L515.9 1096.1L518.1 1095.8L520.3 1095.7L522.5 1095.6L524.7 1095.6L527.0 1095.6L529.2 1095.9L531.4 1096.3L533.6 1096.8L535.8 1097.5L538.0 1098.3L540.2 1099.2L542.5 1100.2L544.7 1101.3L546.9 1102.4L549.1 1103.6L551.3 1104.8L553.5 1106.0L555.8 1107.2L558.0 1108.4L560.2 1109.6L562.4 1110.7L564.6 1111.8L566.8 1112.8L569.1 1113.8L571.3 1114.8L573.5 1115.7L575.7 1116.5L577.9 1117.3L580.1 1118.0L582.4 1118.7L584.6 1119.3L586.8 1119.8L589.0 1120.3L591.2 1120.7L593.4 1121.1L595.6 1121.5L597.9 1121.8L600.1 1122.1L602.3 1122.3L604.5 1122.6L606.7 1122.8L608.9 1122.9L611.2 1123.1L613.4 1123.2L615.6 1123.3L617.8 1123.4L620.0 1123.5L622.2 1123.6L624.5 1123.7L626.7 1123.7L628.9 1123.8L631.1 1123.9L633.3 1123.9L635.5 1123.9L637.8 1124.0L640.0 1124.0L642.2 1124.1L644.4 1124.1"/>
<path d="M35.0 1120.2L37.2 1120.1L39.4 1120.0L41.6 1119.9L43.9 1119.7L46.1 1119.6L48.3 1119.5L50.5 1119.3L52.7 1119.2L54.9 1119.0L57.2 1118.9L59.4 1118.7L61.6 1118.5L63.8 1118.3L66.0 1118.2L68.2 1118.0L70.5 1117.7L72.7 1117.5L74.9 1117.3L77.1 1117.1L79.3 1116.8L81.5 1116.6L83.8 1116.3L86.0 1116.0L88.2 1115.7L90.4 1115.4L92.6 1115.0L94.8 1114.7L97.0 1114.3L99.3 1113.9L101.5 1113.4L103.7 1113.0L105.9 1112.5L108.1 1111.9L110.3 1111.3L112.6 1110.7L114.8 1110.0L117.0 1109.2L119.2 1108.4L121.4 1107.5L123.6 1106.5L125.9 1105.4L128.1 1104.2L130.3 1102.8L132.5 1101.4L134.7 1099.8L136.9 1098.0L139.2 1096.1L141.4 1094.0L143.6 1091.7L145.8 1089.2L148.0 1086.5L150.2 1083.5L152.4 1080.3L154.7 1076.8L156.9 1073.1L159.1 1069.1L161.3 1064.8L163.5 1060.2L165.7 1055.4L168.0 1050.2L170.2 1044.8L172.4 1039.2L174.6 1033.2L176.8 1027.1L179.0 1020.7L181.3 1014.2L183.5 1007.5L185.7 1000.7L187.9 993.9L190.1 987.0L192.3 980.3L194.6 973.7L196.8 967.2L199.0 961.0L201.2 955.1L203.4 949.2L205.6 943.2L207.8 936.6L210.1 928.3L212.3 917.3L214.5 904.2L216.7 889.7L218.9 872.6L221.1 852.7L223.4 832.1L225.6 815.7L227.8 810.9L230.0 823.6L232.2 852.3L234.4 891.0L236.7 932.7L238.9 972.0L241.1 1005.8L243.3 1032.9L245.5 1053.2L247.7 1067.7L250.0 1077.6L252.2 1084.2L254.4 1088.7L256.6 1091.7L258.8 1093.8L261.0 1095.3L263.2 1096.4L265.5 1097.2L267.7 1097.9L269.9 1098.4L272.1 1098.8L274.3 1099.1L276.5 1099.3L278.8 1099.3L281.0 1099.3L283.2 1099.1L285.4 1098.8L287.6 1098.3L289.8 1097.6L292.1 1096.8L294.3 1095.8L296.5 1094.5L298.7 1093.0L300.9 1091.2L303.1 1089.1L305.4 1086.8L307.6 1084.1L309.8 1081.1L312.0 1077.8L314.2 1074.1L316.4 1070.2L318.6 1065.9L320.9 1061.4L323.1 1056.6L325.3 1051.6L327.5 1046.5L329.7 1041.2L331.9 1035.9L334.2 1030.7L336.4 1025.6L338.6 1020.7L340.8 1016.2L343.0 1012.1L345.2 1008.6L347.5 1005.7L349.7 1003.7L351.9 1002.5L354.1 1002.2L356.3 1002.9L358.5 1004.6L360.8 1007.3L363.0 1010.7L365.2 1014.9L367.4 1019.7L369.6 1025.0L371.8 1030.6L374.0 1036.4L376.3 1042.3L378.5 1048.3L380.7 1054.1L382.9 1059.8L385.1 1065.2L387.3 1070.4L389.6 1075.2L391.8 1079.6L394.0 1083.6L396.2 1087.2L398.4 1090.3L400.6 1093.0L402.9 1095.2L405.1 1097.0L407.3 1098.4L409.5 1099.3L411.7 1099.9L413.9 1100.1L416.2 1100.0L418.4 1099.6L420.6 1099.0L422.8 1098.2L425.0 1097.3L427.2 1096.4L429.4 1095.4L431.7 1094.5L433.9 1093.7L436.1 1093.1L438.3 1092.7L440.5 1092.6L442.7 1092.8L445.0 1093.3L447.2 1094.0L449.4 1094.9L451.6 1096.0L453.8 1097.0L456.0 1098.1L458.3 1099.2L460.5 1100.2L462.7 1101.0L464.9 1101.7L467.1 1102.3L469.3 1102.7L471.6 1103.0L473.8 1103.1L476.0 1103.0L478.2 1102.8L480.4 1102.5L482.6 1102.1L484.8 1101.6L487.1 1101.0L489.3 1100.4L491.5 1099.7L493.7 1099.0L495.9 1098.3L498.1 1097.5L500.4 1096.8L502.6 1096.2L504.8 1095.5L507.0 1094.9L509.2 1094.3L511.4 1093.8L513.7 1093.4L515.9 1093.0L518.1 1092.8L520.3 1092.6L522.5 1092.5L524.7 1092.4L527.0 1092.5L529.2 1092.8L531.4 1093.3L533.6 1093.9L535.8 1094.6L538.0 1095.5L540.2 1096.5L542.5 1097.6L544.7 1098.8L546.9 1100.1L549.1 1101.3L551.3 1102.7L553.5 1104.0L555.8 1105.3L558.0 1106.6L560.2 1107.9L562.4 1109.2L564.6 1110.4L566.8 1111.6L569.1 1112.7L571.3 1113.7L573.5 1114.7L575.7 1115.6L577.9 1116.5L580.1 1117.3L582.4 1118.0L584.6 1118.7L586.8 1119.3L589.0 1119.8L591.2 1120.3L593.4 1120.7L595.6 1121.1L597.9 1121.5L600.1 1121.8L602.3 1122.1L604.5 1122.3L606.7 1122.5L608.9 1122.7L611.2 1122.9L613.4 1123.0L615.6 1123.2L617.8 1123.3L620.0 1123.4L622.2 1123.5L624.5 1123.5L626.7 1123.6L628.9 1123.7L631.1 1123.7L633.3 1123.8L635.5 1123.8L637.8 1123.9L640.0 1123.9L642.2 1124.0L644.4 1124.0"/>
<path d="M35.0 1120.9L37.2 1120.8L39.4 1120.7L41.6 1120.6L43.9 1120.4L46.1 1120.3L48.3 1120.2L50.5 1120.1L52.7 1120.0L54.9 1119.8L57.2 1119.7L59.4 1119.5L61.6 1119.4L63.8 1119.2L66.0 1119.1L68.2 1118.9L70.5 1118.7L72.7 1118.6L74.9 1118.4L77.1 1118.2L79.3 1118.0L81.5 1117.7L83.8 1117.5L86.0 1117.3L88.2 1117.0L90.4 1116.7L92.6 1116.4L94.8 1116.1L97.0 1115.8L99.3 1115.5L101.5 1115.1L103.7 1114.7L105.9 1114.3L108.1 1113.8L110.3 1113.3L112.6 1112.8L114.8 1112.2L117.0 1111.6L119.2 1110.9L121.4 1110.1L123.6 1109.3L125.9 1108.4L128.1 1107.4L130.3 1106.3L132.5 1105.1L134.7 1103.7L136.9 1102.3L139.2 1100.7L141.4 1098.9L143.6 1097.0L145.8 1095.0L148.0 1092.7L150.2 1090.2L152.4 1087.6L154.7 1084.7L156.9 1081.6L159.1 1078.2L161.3 1074.7L163.5 1070.9L165.7 1066.8L168.0 1062.5L170.2 1058.0L172.4 1053.3L174.6 1048.3L176.8 1043.1L179.0 1037.8L181.3 1032.3L183.5 1026.6L185.7 1020.9L187.9 1015.1L190.1 1009.3L192.3 1003.5L194.6 997.9L196.8 992.3L199.0 986.9L201.2 981.7L203.4 976.5L205.6 971.1L207.8 965.0L210.1 957.7L212.3 948.1L214.5 936.5L216.7 924.2L218.9 910.6L221.1 895.4L223.4 879.8L225.6 867.0L227.8 861.8L230.0 869.1L232.2 889.3L234.4 918.8L236.7 952.1L238.9 984.8L241.1 1013.8L243.3 1037.7L245.5 1056.2L247.7 1069.8L250.0 1079.2L252.2 1085.6L254.4 1089.9L256.6 1092.7L258.8 1094.6L261.0 1095.9L263.2 1096.8L265.5 1097.4L267.7 1097.9L269.9 1098.2L272.1 1098.4L274.3 1098.5L276.5 1098.5L278.8 1098.5L281.0 1098.2L283.2 1097.9L285.4 1097.4L287.6 1096.8L289.8 1095.9L292.1 1094.9L294.3 1093.6L296.5 1092.1L298.7 1090.3L300.9 1088.3L303.1 1085.9L305.4 1083.1L307.6 1080.0L309.8 1076.6L312.0 1072.8L314.2 1068.6L316.4 1064.0L318.6 1059.1L320.9 1053.9L323.1 1048.4L325.3 1042.6L327.5 1036.7L329.7 1030.6L331.9 1024.5L334.2 1018.4L336.4 1012.4L338.6 1006.7L340.8 1001.3L343.0 996.5L345.2 992.3L347.5 988.8L349.7 986.3L351.9 984.7L354.1 984.1L356.3 984.7L358.5 986.4L360.8 989.2L363.0 993.0L365.2 997.6L367.4 1003.0L369.6 1008.9L371.8 1015.3L374.0 1022.0L376.3 1028.8L378.5 1035.6L380.7 1042.3L382.9 1048.9L385.1 1055.2L387.3 1061.2L389.6 1066.8L391.8 1072.0L394.0 1076.7L396.2 1081.0L398.4 1084.7L400.6 1087.9L402.9 1090.7L405.1 1093.0L407.3 1094.8L409.5 1096.1L411.7 1097.1L413.9 1097.6L416.2 1097.9L418.4 1097.8L420.6 1097.6L422.8 1097.1L425.0 1096.4L427.2 1095.7L429.4 1095.0L431.7 1094.3L433.9 1093.7L436.1 1093.2L438.3 1092.9L440.5 1092.8L442.7 1092.9L445.0 1093.3L447.2 1093.9L449.4 1094.6L451.6 1095.4L453.8 1096.3L456.0 1097.2L458.3 1098.0L460.5 1098.8L462.7 1099.5L464.9 1100.0L467.1 1100.4L469.3 1100.7L471.6 1100.8L473.8 1100.8L476.0 1100.6L478.2 1100.3L480.4 1099.9L482.6 1099.4L484.8 1098.8L487.1 1098.1L489.3 1097.3L491.5 1096.6L493.7 1095.8L495.9 1094.9L498.1 1094.1L500.4 1093.3L502.6 1092.5L504.8 1091.8L507.0 1091.1L509.2 1090.5L511.4 1089.9L513.7 1089.4L515.9 1089.0L518.1 1088.7L520.3 1088.5L522.5 1088.3L524.7 1088.3L527.0 1088.4L529.2 1088.7L531.4 1089.2L533.6 1089.9L535.8 1090.8L538.0 1091.8L540.2 1092.9L542.5 1094.2L544.7 1095.5L546.9 1096.9L549.1 1098.3L551.3 1099.8L553.5 1101.3L555.8 1102.8L558.0 1104.3L560.2 1105.8L562.4 1107.2L564.6 1108.6L566.8 1109.9L569.1 1111.1L571.3 1112.3L573.5 1113.4L575.7 1114.4L577.9 1115.4L580.1 1116.3L582.4 1117.1L584.6 1117.9L586.8 1118.5L589.0 1119.2L591.2 1119.7L593.4 1120.2L595.6 1120.7L597.9 1121.0L600.1 1121.4L602.3 1121.7L604.5 1122.0L606.7 1122.2L608.9 1122.4L611.2 1122.6L613.4 1122.8L615.6 1122.9L617.8 1123.1L620.0 1123.2L622.2 1123.3L624.5 1123.4L626.7 1123.4L628.9 1123.5L631.1 1123.6L633.3 1123.6L635.5 1123.7L637.8 1123.7L640.0 1123.8L642.2 1123.8L644.4 1123.9"/>
<path d="M35.0 1121.1L37.2 1121.0L39.4 1120.9L41.6 1120.8L43.9 1120.7L46.1 1120.6L48.3 1120.5L50.5 1120.4L52.7 1120.3L54.9 1120.2L57.2 1120.0L59.4 1119.9L61.6 1119.8L63.8 1119.6L66.0 1119.5L68.2 1119.3L70.5 1119.2L72.7 1119.0L74.9 1118.8L77.1 1118.6L79.3 1118.4L81.5 1118.2L83.8 1118.0L86.0 1117.8L88.2 1117.5L90.4 1117.3L92.6 1117.0L94.8 1116.8L97.0 1116.5L99.3 1116.1L101.5 1115.8L103.7 1115.4L105.9 1115.0L108.1 1114.6L110.3 1114.2L112.6 1113.7L114.8 1113.1L117.0 1112.5L119.2 1111.9L121.4 1111.2L123.6 1110.5L125.9 1109.6L128.1 1108.7L130.3 1107.7L132.5 1106.6L134.7 1105.4L136.9 1104.1L139.2 1102.6L141.4 1101.0L143.6 1099.3L145.8 1097.4L148.0 1095.3L150.2 1093.1L152.4 1090.6L154.7 1088.0L156.9 1085.2L159.1 1082.1L161.3 1078.9L163.5 1075.4L165.7 1071.7L168.0 1067.8L170.2 1063.7L172.4 1059.4L174.6 1054.8L176.8 1050.1L179.0 1045.2L181.3 1040.2L183.5 1035.1L185.7 1029.8L187.9 1024.5L190.1 1019.2L192.3 1013.9L194.6 1008.7L196.8 1003.6L199.0 998.6L201.2 993.6L203.4 988.6L205.6 983.3L207.8 977.2L210.1 969.9L212.3 960.5L214.5 949.3L216.7 937.9L218.9 925.9L221.1 913.1L223.4 900.6L225.6 890.9L227.8 887.8L230.0 894.7L232.2 912.4L234.4 937.9L236.7 966.8L238.9 995.3L241.1 1021.0L243.3 1042.4L245.5 1059.2L247.7 1071.7L250.0 1080.6L252.2 1086.7L254.4 1090.7L256.6 1093.3L258.8 1095.1L261.0 1096.2L263.2 1097.0L265.5 1097.5L267.7 1097.8L269.9 1098.0L272.1 1098.1L274.3 1098.2L276.5 1098.1L278.8 1097.9L281.0 1097.5L283.2 1097.1L285.4 1096.5L287.6 1095.7L289.8 1094.7L292.1 1093.5L294.3 1092.0L296.5 1090.3L298.7 1088.3L300.9 1086.0L303.1 1083.3L305.4 1080.2L307.6 1076.7L309.8 1072.9L312.0 1068.6L314.2 1064.0L316.4 1058.9L318.6 1053.5L320.9 1047.6L323.1 1041.5L325.3 1035.1L327.5 1028.4L329.7 1021.6L331.9 1014.7L334.2 1007.9L336.4 1001.1L338.6 994.7L340.8 988.6L343.0 983.0L345.2 978.1L347.5 974.1L349.7 971.0L351.9 968.9L354.1 968.1L356.3 968.4L358.5 970.0L360.8 972.9L363.0 976.9L365.2 981.9L367.4 987.7L369.6 994.3L371.8 1001.3L374.0 1008.6L376.3 1016.2L378.5 1023.8L380.7 1031.4L382.9 1038.7L385.1 1045.8L387.3 1052.6L389.6 1058.9L391.8 1064.8L394.0 1070.2L396.2 1075.0L398.4 1079.4L400.6 1083.1L402.9 1086.4L405.1 1089.1L407.3 1091.3L409.5 1093.1L411.7 1094.4L413.9 1095.3L416.2 1095.9L418.4 1096.2L420.6 1096.2L422.8 1096.0L425.0 1095.6L427.2 1095.1L429.4 1094.6L431.7 1094.1L433.9 1093.6L436.1 1093.3L438.3 1093.0L440.5 1092.9L442.7 1093.0L445.0 1093.3L447.2 1093.8L449.4 1094.3L451.6 1095.0L453.8 1095.7L456.0 1096.4L458.3 1097.1L460.5 1097.7L462.7 1098.2L464.9 1098.6L467.1 1098.9L469.3 1099.1L471.6 1099.1L473.8 1099.0L476.0 1098.7L478.2 1098.3L480.4 1097.8L482.6 1097.2L484.8 1096.6L487.1 1095.8L489.3 1095.0L491.5 1094.1L493.7 1093.3L495.9 1092.4L498.1 1091.5L500.4 1090.6L502.6 1089.8L504.8 1089.0L507.0 1088.2L509.2 1087.5L511.4 1086.9L513.7 1086.4L515.9 1085.9L518.1 1085.6L520.3 1085.4L522.5 1085.2L524.7 1085.2L527.0 1085.3L529.2 1085.6L531.4 1086.2L533.6 1086.9L535.8 1087.8L538.0 1088.9L540.2 1090.2L542.5 1091.5L544.7 1093.0L546.9 1094.5L549.1 1096.1L551.3 1097.7L553.5 1099.3L555.8 1100.9L558.0 1102.5L560.2 1104.1L562.4 1105.7L564.6 1107.1L566.8 1108.6L569.1 1109.9L571.3 1111.2L573.5 1112.4L575.7 1113.5L577.9 1114.6L580.1 1115.6L582.4 1116.4L584.6 1117.3L586.8 1118.0L589.0 1118.7L591.2 1119.3L593.4 1119.8L595.6 1120.3L597.9 1120.7L600.1 1121.1L602.3 1121.4L604.5 1121.7L606.7 1122.0L608.9 1122.2L611.2 1122.4L613.4 1122.6L615.6 1122.8L617.8 1122.9L620.0 1123.0L622.2 1123.1L624.5 1123.2L626.7 1123.3L628.9 1123.4L631.1 1123.5L633.3 1123.5L635.5 1123.6L637.8 1123.6L640.0 1123.7L642.2 1123.7L644.4 1123.8"/>
<path d="M35.0 1121.6L37.2 1121.6L39.4 1121.5L41.6 1121.4L43.9 1121.3L46.1 1121.2L48.3 1121.1L50.5 1121.0L52.7 1120.9L54.9 1120.8L57.2 1120.7L59.4 1120.6L61.6 1120.5L63.8 1120.4L66.0 1120.2L68.2 1120.1L70.5 1120.0L72.7 1119.8L74.9 1119.7L77.1 1119.5L79.3 1119.3L81.5 1119.2L83.8 1119.0L86.0 1118.8L88.2 1118.6L90.4 1118.4L92.6 1118.2L94.8 1117.9L97.0 1117.7L99.3 1117.4L101.5 1117.1L103.7 1116.8L105.9 1116.5L108.1 1116.1L110.3 1115.7L112.6 1115.3L114.8 1114.9L117.0 1114.4L119.2 1113.8L121.4 1113.3L123.6 1112.6L125.9 1111.9L128.1 1111.2L130.3 1110.3L132.5 1109.4L134.7 1108.4L136.9 1107.3L139.2 1106.1L141.4 1104.7L143.6 1103.3L145.8 1101.7L148.0 1100.0L150.2 1098.1L152.4 1096.1L154.7 1093.9L156.9 1091.5L159.1 1089.0L161.3 1086.3L163.5 1083.4L165.7 1080.3L168.0 1077.1L170.2 1073.6L172.4 1070.0L174.6 1066.2L176.8 1062.3L179.0 1058.2L181.3 1054.1L183.5 1049.8L185.7 1045.4L187.9 1041.0L190.1 1036.5L192.3 1032.1L194.6 1027.7L196.8 1023.4L199.0 1019.1L201.2 1014.8L203.4 1010.4L205.6 1005.6L207.8 1000.1L210.1 993.4L212.3 985.1L214.5 975.4L216.7 965.9L218.9 956.3L221.1 946.5L223.4 937.5L225.6 930.8L227.8 929.3L230.0 935.2L232.2 949.2L234.4 969.2L236.7 992.0L238.9 1014.7L241.1 1035.3L243.3 1052.6L245.5 1066.4L247.7 1076.8L250.0 1084.2L252.2 1089.3L254.4 1092.6L256.6 1094.8L258.8 1096.1L261.0 1096.9L263.2 1097.4L265.5 1097.7L267.7 1097.8L269.9 1097.8L272.1 1097.8L274.3 1097.6L276.5 1097.4L278.8 1097.1L281.0 1096.7L283.2 1096.1L285.4 1095.4L287.6 1094.5L289.8 1093.5L292.1 1092.2L294.3 1090.6L296.5 1088.8L298.7 1086.6L300.9 1084.1L303.1 1081.3L305.4 1078.0L307.6 1074.4L309.8 1070.3L312.0 1065.8L314.2 1060.8L316.4 1055.4L318.6 1049.6L320.9 1043.4L323.1 1036.8L325.3 1029.9L327.5 1022.8L329.7 1015.4L331.9 1008.0L334.2 1000.6L336.4 993.2L338.6 986.2L340.8 979.5L343.0 973.3L345.2 967.9L347.5 963.3L349.7 959.7L351.9 957.3L354.1 956.1L356.3 956.1L358.5 957.6L360.8 960.4L363.0 964.5L365.2 969.7L367.4 975.8L369.6 982.7L371.8 990.1L374.0 998.0L376.3 1006.1L378.5 1014.3L380.7 1022.4L382.9 1030.4L385.1 1038.1L387.3 1045.5L389.6 1052.4L391.8 1058.8L394.0 1064.7L396.2 1070.1L398.4 1074.9L400.6 1079.1L402.9 1082.8L405.1 1085.9L407.3 1088.5L409.5 1090.6L411.7 1092.2L413.9 1093.4L416.2 1094.3L418.4 1094.8L420.6 1095.1L422.8 1095.1L425.0 1095.0L427.2 1094.7L429.4 1094.4L431.7 1094.0L433.9 1093.6L436.1 1093.3L438.3 1093.1L440.5 1093.0L442.7 1093.1L445.0 1093.3L447.2 1093.7L449.4 1094.1L451.6 1094.6L453.8 1095.2L456.0 1095.7L458.3 1096.3L460.5 1096.7L462.7 1097.1L464.9 1097.4L467.1 1097.5L469.3 1097.5L471.6 1097.4L473.8 1097.2L476.0 1096.9L478.2 1096.4L480.4 1095.8L482.6 1095.2L484.8 1094.4L487.1 1093.6L489.3 1092.7L491.5 1091.8L493.7 1090.8L495.9 1089.9L498.1 1088.9L500.4 1088.0L502.6 1087.1L504.8 1086.2L507.0 1085.4L509.2 1084.7L511.4 1084.0L513.7 1083.4L515.9 1082.9L518.1 1082.6L520.3 1082.3L522.5 1082.1L524.7 1082.1L527.0 1082.2L529.2 1082.6L531.4 1083.2L533.6 1084.0L535.8 1085.0L538.0 1086.1L540.2 1087.5L542.5 1088.9L544.7 1090.5L546.9 1092.1L549.1 1093.8L551.3 1095.6L553.5 1097.3L555.8 1099.1L558.0 1100.8L560.2 1102.5L562.4 1104.2L564.6 1105.8L566.8 1107.3L569.1 1108.8L571.3 1110.2L573.5 1111.5L575.7 1112.7L577.9 1113.8L580.1 1114.8L582.4 1115.8L584.6 1116.7L586.8 1117.5L589.0 1118.2L591.2 1118.8L593.4 1119.4L595.6 1119.9L597.9 1120.4L600.1 1120.8L602.3 1121.2L604.5 1121.5L606.7 1121.8L608.9 1122.0L611.2 1122.2L613.4 1122.4L615.6 1122.6L617.8 1122.7L620.0 1122.9L622.2 1123.0L624.5 1123.1L626.7 1123.2L628.9 1123.3L631.1 1123.4L633.3 1123.4L635.5 1123.5L637.8 1123.5L640.0 1123.6L642.2 1123.6L644.4 1123.7"/>
<path d="M35.0 1122.4L37.2 1122.4L39.4 1122.3L41.6 1122.2L43.9 1122.2L46.1 1122.1L48.3 1122.0L50.5 1121.9L52.7 1121.9L54.9 1121.8L57.2 1121.7L59.4 1121.6L61.6 1121.5L63.8 1121.4L66.0 1121.4L68.2 1121.3L70.5 1121.2L72.7 1121.0L74.9 1120.9L77.1 1120.8L79.3 1120.7L81.5 1120.6L83.8 1120.4L86.0 1120.3L88.2 1120.2L90.4 1120.0L92.6 1119.8L94.8 1119.7L97.0 1119.5L99.3 1119.3L101.5 1119.1L103.7 1118.9L105.9 1118.6L108.1 1118.4L110.3 1118.1L112.6 1117.8L114.8 1117.5L117.0 1117.1L119.2 1116.7L121.4 1116.3L123.6 1115.9L125.9 1115.4L128.1 1114.8L130.3 1114.3L132.5 1113.6L134.7 1112.9L136.9 1112.1L139.2 1111.3L141.4 1110.3L143.6 1109.3L145.8 1108.2L148.0 1107.0L150.2 1105.7L152.4 1104.3L154.7 1102.8L156.9 1101.1L159.1 1099.3L161.3 1097.4L163.5 1095.4L165.7 1093.3L168.0 1091.0L170.2 1088.6L172.4 1086.0L174.6 1083.4L176.8 1080.6L179.0 1077.7L181.3 1074.8L183.5 1071.7L185.7 1068.6L187.9 1065.5L190.1 1062.3L192.3 1059.1L194.6 1056.0L196.8 1052.8L199.0 1049.7L201.2 1046.5L203.4 1043.2L205.6 1039.6L207.8 1035.6L210.1 1030.7L212.3 1024.8L214.5 1017.8L216.7 1011.0L218.9 1004.4L221.1 998.0L223.4 992.1L225.6 987.6L227.8 986.0L230.0 988.9L232.2 996.9L234.4 1009.4L236.7 1024.2L238.9 1039.5L241.1 1053.7L243.3 1066.0L245.5 1076.0L247.7 1083.6L250.0 1089.1L252.2 1092.8L254.4 1095.3L256.6 1096.7L258.8 1097.5L261.0 1097.9L263.2 1098.0L265.5 1097.9L267.7 1097.8L269.9 1097.5L272.1 1097.2L274.3 1096.9L276.5 1096.5L278.8 1096.0L281.0 1095.4L283.2 1094.7L285.4 1093.9L287.6 1092.9L289.8 1091.7L292.1 1090.2L294.3 1088.5L296.5 1086.5L298.7 1084.2L300.9 1081.5L303.1 1078.4L305.4 1074.8L307.6 1070.9L309.8 1066.4L312.0 1061.5L314.2 1056.1L316.4 1050.2L318.6 1043.9L320.9 1037.1L323.1 1029.9L325.3 1022.3L327.5 1014.4L329.7 1006.4L331.9 998.2L334.2 989.9L336.4 981.8L338.6 973.9L340.8 966.4L343.0 959.4L345.2 953.2L347.5 948.0L349.7 943.8L351.9 940.8L354.1 939.1L356.3 938.9L358.5 940.2L360.8 943.0L363.0 947.2L365.2 952.7L367.4 959.2L369.6 966.6L371.8 974.7L374.0 983.3L376.3 992.2L378.5 1001.2L380.7 1010.2L382.9 1019.1L385.1 1027.6L387.3 1035.8L389.6 1043.6L391.8 1050.8L394.0 1057.5L396.2 1063.6L398.4 1069.0L400.6 1073.9L402.9 1078.1L405.1 1081.8L407.3 1084.9L409.5 1087.4L411.7 1089.5L413.9 1091.1L416.2 1092.4L418.4 1093.2L420.6 1093.8L422.8 1094.1L425.0 1094.2L427.2 1094.2L429.4 1094.1L431.7 1093.9L433.9 1093.6L436.1 1093.4L438.3 1093.2L440.5 1093.1L442.7 1093.2L445.0 1093.3L447.2 1093.5L449.4 1093.9L451.6 1094.2L453.8 1094.6L456.0 1095.0L458.3 1095.3L460.5 1095.6L462.7 1095.8L464.9 1095.8L467.1 1095.8L469.3 1095.7L471.6 1095.5L473.8 1095.1L476.0 1094.6L478.2 1094.0L480.4 1093.3L482.6 1092.5L484.8 1091.7L487.1 1090.7L489.3 1089.7L491.5 1088.7L493.7 1087.7L495.9 1086.6L498.1 1085.5L500.4 1084.5L502.6 1083.5L504.8 1082.5L507.0 1081.7L509.2 1080.8L511.4 1080.1L513.7 1079.5L515.9 1078.9L518.1 1078.5L520.3 1078.2L522.5 1078.1L524.7 1078.0L527.0 1078.2L529.2 1078.5L531.4 1079.2L533.6 1080.1L535.8 1081.1L538.0 1082.4L540.2 1083.9L542.5 1085.5L544.7 1087.2L546.9 1089.0L549.1 1090.8L551.3 1092.8L553.5 1094.7L555.8 1096.6L558.0 1098.5L560.2 1100.4L562.4 1102.2L564.6 1104.0L566.8 1105.6L569.1 1107.2L571.3 1108.8L573.5 1110.2L575.7 1111.5L577.9 1112.8L580.1 1113.9L582.4 1114.9L584.6 1115.9L586.8 1116.8L589.0 1117.6L591.2 1118.3L593.4 1118.9L595.6 1119.5L597.9 1120.0L600.1 1120.4L602.3 1120.8L604.5 1121.2L606.7 1121.5L608.9 1121.8L611.2 1122.0L613.4 1122.2L615.6 1122.4L617.8 1122.6L620.0 1122.7L622.2 1122.8L624.5 1122.9L626.7 1123.0L628.9 1123.1L631.1 1123.2L633.3 1123.3L635.5 1123.4L637.8 1123.4L640.0 1123.5L642.2 1123.5L644.4 1123.6"/>
<path d="M35.0 1123.0L37.2 1123.0L39.4 1123.0L41.6 1122.9L43.9 1122.9L46.1 1122.8L48.3 1122.8L50.5 1122.7L52.7 1122.7L54.9 1122.6L57.2 1122.5L59.4 1122.5L61.6 1122.4L63.8 1122.4L66.0 1122.3L68.2 1122.2L70.5 1122.1L72.7 1122.1L74.9 1122.0L77.1 1121.9L79.3 1121.8L81.5 1121.7L83.8 1121.6L86.0 1121.5L88.2 1121.4L90.4 1121.3L92.6 1121.2L94.8 1121.1L97.0 1121.0L99.3 1120.9L101.5 1120.7L103.7 1120.6L105.9 1120.4L108.1 1120.2L110.3 1120.1L112.6 1119.9L114.8 1119.6L117.0 1119.4L119.2 1119.2L121.4 1118.9L123.6 1118.6L125.9 1118.3L128.1 1117.9L130.3 1117.6L132.5 1117.1L134.7 1116.7L136.9 1116.2L139.2 1115.7L141.4 1115.1L143.6 1114.4L145.8 1113.7L148.0 1112.9L150.2 1112.1L152.4 1111.2L154.7 1110.3L156.9 1109.2L159.1 1108.1L161.3 1106.9L163.5 1105.6L165.7 1104.2L168.0 1102.8L170.2 1101.3L172.4 1099.7L174.6 1098.0L176.8 1096.2L179.0 1094.4L181.3 1092.5L183.5 1090.6L185.7 1088.6L187.9 1086.6L190.1 1084.5L192.3 1082.4L194.6 1080.4L196.8 1078.3L199.0 1076.2L201.2 1074.1L203.4 1071.9L205.6 1069.5L207.8 1066.7L210.1 1063.6L212.3 1059.8L214.5 1055.3L216.7 1050.8L218.9 1046.7L221.1 1042.7L223.4 1039.2L225.6 1036.4L227.8 1035.1L230.0 1036.2L232.2 1040.1L234.4 1046.8L236.7 1055.1L238.9 1064.1L241.1 1072.6L243.3 1080.1L245.5 1086.3L247.7 1091.0L250.0 1094.4L252.2 1096.7L254.4 1098.1L256.6 1098.8L258.8 1099.0L261.0 1098.9L263.2 1098.6L265.5 1098.2L267.7 1097.7L269.9 1097.2L272.1 1096.7L274.3 1096.1L276.5 1095.5L278.8 1094.8L281.0 1094.0L283.2 1093.1L285.4 1092.0L287.6 1090.8L289.8 1089.4L292.1 1087.7L294.3 1085.7L296.5 1083.3L298.7 1080.7L300.9 1077.6L303.1 1074.0L305.4 1070.0L307.6 1065.5L309.8 1060.5L312.0 1054.9L314.2 1048.7L316.4 1042.1L318.6 1034.9L320.9 1027.1L323.1 1018.9L325.3 1010.3L327.5 1001.4L329.7 992.1L331.9 982.7L334.2 973.3L336.4 963.9L338.6 954.8L340.8 946.1L343.0 938.0L345.2 930.7L347.5 924.4L349.7 919.3L351.9 915.6L354.1 913.4L356.3 912.7L358.5 913.8L360.8 916.7L363.0 921.1L365.2 927.1L367.4 934.3L369.6 942.6L371.8 951.7L374.0 961.4L376.3 971.6L378.5 981.8L380.7 992.2L382.9 1002.3L385.1 1012.2L387.3 1021.7L389.6 1030.7L391.8 1039.1L394.0 1047.0L396.2 1054.1L398.4 1060.6L400.6 1066.4L402.9 1071.6L405.1 1076.0L407.3 1079.9L409.5 1083.1L411.7 1085.8L413.9 1088.0L416.2 1089.8L418.4 1091.1L420.6 1092.1L422.8 1092.8L425.0 1093.3L427.2 1093.5L429.4 1093.6L431.7 1093.6L433.9 1093.6L436.1 1093.5L438.3 1093.4L440.5 1093.3L442.7 1093.2L445.0 1093.3L447.2 1093.4L449.4 1093.6L451.6 1093.8L453.8 1093.9L456.0 1094.1L458.3 1094.2L460.5 1094.2L462.7 1094.2L464.9 1094.1L467.1 1093.9L469.3 1093.5L471.6 1093.1L473.8 1092.5L476.0 1091.8L478.2 1091.1L480.4 1090.2L482.6 1089.3L484.8 1088.2L487.1 1087.1L489.3 1086.0L491.5 1084.8L493.7 1083.6L495.9 1082.4L498.1 1081.3L500.4 1080.1L502.6 1079.0L504.8 1077.9L507.0 1076.9L509.2 1076.0L511.4 1075.2L513.7 1074.5L515.9 1073.9L518.1 1073.4L520.3 1073.1L522.5 1072.9L524.7 1072.9L527.0 1073.0L529.2 1073.4L531.4 1074.1L533.6 1075.1L535.8 1076.3L538.0 1077.7L540.2 1079.3L542.5 1081.1L544.7 1083.0L546.9 1085.0L549.1 1087.1L551.3 1089.2L553.5 1091.3L555.8 1093.5L558.0 1095.6L560.2 1097.7L562.4 1099.7L564.6 1101.6L566.8 1103.5L569.1 1105.3L571.3 1107.0L573.5 1108.6L575.7 1110.0L577.9 1111.4L580.1 1112.7L582.4 1113.8L584.6 1114.9L586.8 1115.9L589.0 1116.7L591.2 1117.5L593.4 1118.2L595.6 1118.9L597.9 1119.4L600.1 1119.9L602.3 1120.4L604.5 1120.8L606.7 1121.1L608.9 1121.4L611.2 1121.7L613.4 1121.9L615.6 1122.1L617.8 1122.3L620.0 1122.4L622.2 1122.6L624.5 1122.7L626.7 1122.8L628.9 1122.9L631.1 1123.0L633.3 1123.1L635.5 1123.2L637.8 1123.2L640.0 1123.3L642.2 1123.4L644.4 1123.4"/>
<path d="M35.0 1123.5L37.2 1123.5L39.4 1123.5L41.6 1123.4L43.9 1123.4L46.1 1123.4L48.3 1123.3L50.5 1123.3L52.7 1123.2L54.9 1123.2L57.2 1123.2L59.4 1123.1L61.6 1123.1L63.8 1123.0L66.0 1123.0L68.2 1122.9L70.5 1122.9L72.7 1122.8L74.9 1122.8L77.1 1122.7L79.3 1122.7L81.5 1122.6L83.8 1122.5L86.0 1122.5L88.2 1122.4L90.4 1122.3L92.6 1122.3L94.8 1122.2L97.0 1122.1L99.3 1122.0L101.5 1121.9L103.7 1121.8L105.9 1121.7L108.1 1121.6L110.3 1121.5L112.6 1121.4L114.8 1121.2L117.0 1121.1L119.2 1120.9L121.4 1120.8L123.6 1120.6L125.9 1120.4L128.1 1120.2L130.3 1120.0L132.5 1119.7L134.7 1119.4L136.9 1119.2L139.2 1118.8L141.4 1118.5L143.6 1118.1L145.8 1117.7L148.0 1117.2L150.2 1116.7L152.4 1116.2L154.7 1115.7L156.9 1115.0L159.1 1114.4L161.3 1113.7L163.5 1112.9L165.7 1112.1L168.0 1111.3L170.2 1110.3L172.4 1109.4L174.6 1108.4L176.8 1107.3L179.0 1106.2L181.3 1105.1L183.5 1103.9L185.7 1102.7L187.9 1101.5L190.1 1100.2L192.3 1098.9L194.6 1097.6L196.8 1096.3L199.0 1095.0L201.2 1093.6L203.4 1092.2L205.6 1090.7L207.8 1089.1L210.1 1087.2L212.3 1085.0L214.5 1082.4L216.7 1079.5L218.9 1076.8L221.1 1074.3L223.4 1072.0L225.6 1070.0L227.8 1068.5L230.0 1068.0L232.2 1068.8L234.4 1071.2L236.7 1075.0L238.9 1079.5L241.1 1084.2L243.3 1088.6L245.5 1092.3L247.7 1095.3L250.0 1097.4L252.2 1098.8L254.4 1099.6L256.6 1099.9L258.8 1099.8L261.0 1099.4L263.2 1098.9L265.5 1098.3L267.7 1097.7L269.9 1097.0L272.1 1096.4L274.3 1095.7L276.5 1095.0L278.8 1094.3L281.0 1093.4L283.2 1092.5L285.4 1091.4L287.6 1090.2L289.8 1088.7L292.1 1087.0L294.3 1085.0L296.5 1082.7L298.7 1080.1L300.9 1077.0L303.1 1073.4L305.4 1069.4L307.6 1064.9L309.8 1059.8L312.0 1054.2L314.2 1048.0L316.4 1041.3L318.6 1034.0L320.9 1026.1L323.1 1017.8L325.3 1009.0L327.5 999.8L329.7 990.4L331.9 980.7L334.2 971.0L336.4 961.3L338.6 951.9L340.8 942.8L343.0 934.3L345.2 926.6L347.5 919.9L349.7 914.3L351.9 910.2L354.1 907.6L356.3 906.6L358.5 907.3L360.8 909.9L363.0 914.2L365.2 920.0L367.4 927.2L369.6 935.5L371.8 944.7L374.0 954.6L376.3 964.9L378.5 975.4L380.7 986.0L382.9 996.5L385.1 1006.8L387.3 1016.6L389.6 1026.0L391.8 1034.8L394.0 1043.0L396.2 1050.5L398.4 1057.3L400.6 1063.5L402.9 1068.9L405.1 1073.7L407.3 1077.9L409.5 1081.4L411.7 1084.3L413.9 1086.8L416.2 1088.8L418.4 1090.3L420.6 1091.5L422.8 1092.4L425.0 1093.0L427.2 1093.4L429.4 1093.6L431.7 1093.7L433.9 1093.7L436.1 1093.6L438.3 1093.5L440.5 1093.4L442.7 1093.3L445.0 1093.3L447.2 1093.3L449.4 1093.3L451.6 1093.4L453.8 1093.4L456.0 1093.4L458.3 1093.3L460.5 1093.2L462.7 1093.0L464.9 1092.7L467.1 1092.3L469.3 1091.9L471.6 1091.3L473.8 1090.6L476.0 1089.7L478.2 1088.8L480.4 1087.8L482.6 1086.8L484.8 1085.6L487.1 1084.4L489.3 1083.2L491.5 1081.9L493.7 1080.6L495.9 1079.3L498.1 1078.0L500.4 1076.7L502.6 1075.5L504.8 1074.3L507.0 1073.2L509.2 1072.3L511.4 1071.4L513.7 1070.6L515.9 1070.0L518.1 1069.4L520.3 1069.1L522.5 1068.9L524.7 1068.8L527.0 1069.0L529.2 1069.4L531.4 1070.2L533.6 1071.2L535.8 1072.5L538.0 1074.1L540.2 1075.8L542.5 1077.7L544.7 1079.8L546.9 1081.9L549.1 1084.2L551.3 1086.4L553.5 1088.8L555.8 1091.1L558.0 1093.3L560.2 1095.6L562.4 1097.8L564.6 1099.9L566.8 1101.9L569.1 1103.8L571.3 1105.6L573.5 1107.3L575.7 1108.9L577.9 1110.4L580.1 1111.8L582.4 1113.0L584.6 1114.2L586.8 1115.2L589.0 1116.2L591.2 1117.0L593.4 1117.8L595.6 1118.4L597.9 1119.0L600.1 1119.6L602.3 1120.1L604.5 1120.5L606.7 1120.8L608.9 1121.2L611.2 1121.5L613.4 1121.7L615.6 1121.9L617.8 1122.1L620.0 1122.3L622.2 1122.4L624.5 1122.6L626.7 1122.7L628.9 1122.8L631.1 1122.9L633.3 1123.0L635.5 1123.1L637.8 1123.1L640.0 1123.2L642.2 1123.3L644.4 1123.3"/>
<path d="M35.0 1123.8L37.2 1123.8L39.4 1123.7L41.6 1123.7L43.9 1123.7L46.1 1123.7L48.3 1123.6L50.5 1123.6L52.7 1123.6L54.9 1123.5L57.2 1123.5L59.4 1123.5L61.6 1123.4L63.8 1123.4L66.0 1123.4L68.2 1123.3L70.5 1123.3L72.7 1123.3L74.9 1123.2L77.1 1123.2L79.3 1123.1L81.5 1123.1L83.8 1123.0L86.0 1123.0L88.2 1122.9L90.4 1122.9L92.6 1122.8L94.8 1122.8L97.0 1122.7L99.3 1122.6L101.5 1122.6L103.7 1122.5L105.9 1122.4L108.1 1122.4L110.3 1122.3L112.6 1122.2L114.8 1122.1L117.0 1122.0L119.2 1121.9L121.4 1121.8L123.6 1121.7L125.9 1121.5L128.1 1121.4L130.3 1121.2L132.5 1121.1L134.7 1120.9L136.9 1120.7L139.2 1120.5L141.4 1120.3L143.6 1120.0L145.8 1119.8L148.0 1119.5L150.2 1119.2L152.4 1118.8L154.7 1118.5L156.9 1118.1L159.1 1117.7L161.3 1117.2L163.5 1116.7L165.7 1116.2L168.0 1115.7L170.2 1115.1L172.4 1114.5L174.6 1113.9L176.8 1113.2L179.0 1112.5L181.3 1111.8L183.5 1111.0L185.7 1110.2L187.9 1109.4L190.1 1108.6L192.3 1107.7L194.6 1106.8L196.8 1106.0L199.0 1105.1L201.2 1104.1L203.4 1103.2L205.6 1102.2L207.8 1101.1L210.1 1099.8L212.3 1098.4L214.5 1096.8L216.7 1095.0L218.9 1093.0L221.1 1091.2L223.4 1089.5L225.6 1088.0L227.8 1086.8L230.0 1085.8L232.2 1085.5L234.4 1086.0L236.7 1087.3L238.9 1089.4L241.1 1091.8L243.3 1094.2L245.5 1096.4L247.7 1098.1L250.0 1099.4L252.2 1100.2L254.4 1100.5L256.6 1100.5L258.8 1100.2L261.0 1099.7L263.2 1099.1L265.5 1098.4L267.7 1097.6L269.9 1096.9L272.1 1096.2L274.3 1095.5L276.5 1094.8L278.8 1094.0L281.0 1093.2L283.2 1092.3L285.4 1091.2L287.6 1090.0L289.8 1088.6L292.1 1086.9L294.3 1085.0L296.5 1082.8L298.7 1080.2L300.9 1077.1L303.1 1073.7L305.4 1069.8L307.6 1065.3L309.8 1060.3L312.0 1054.8L314.2 1048.6L316.4 1042.0L318.6 1034.7L320.9 1026.9L323.1 1018.6L325.3 1009.8L327.5 1000.6L329.7 991.1L331.9 981.4L334.2 971.6L336.4 961.8L338.6 952.2L340.8 942.9L343.0 934.2L345.2 926.2L347.5 919.2L349.7 913.4L351.9 908.9L354.1 905.9L356.3 904.6L358.5 904.9L360.8 907.1L363.0 911.1L365.2 916.6L367.4 923.6L369.6 931.8L371.8 940.9L374.0 950.7L376.3 961.0L378.5 971.6L380.7 982.3L382.9 992.9L385.1 1003.3L387.3 1013.3L389.6 1022.9L391.8 1031.9L394.0 1040.3L396.2 1048.0L398.4 1055.1L400.6 1061.4L402.9 1067.1L405.1 1072.1L407.3 1076.4L409.5 1080.1L411.7 1083.3L413.9 1085.9L416.2 1088.0L418.4 1089.7L420.6 1091.0L422.8 1092.0L425.0 1092.8L427.2 1093.3L429.4 1093.6L431.7 1093.7L433.9 1093.8L436.1 1093.7L438.3 1093.6L440.5 1093.5L442.7 1093.4L445.0 1093.3L447.2 1093.2L449.4 1093.2L451.6 1093.1L453.8 1093.0L456.0 1092.9L458.3 1092.7L460.5 1092.4L462.7 1092.1L464.9 1091.7L467.1 1091.2L469.3 1090.6L471.6 1089.9L473.8 1089.1L476.0 1088.1L478.2 1087.1L480.4 1086.0L482.6 1084.9L484.8 1083.6L487.1 1082.3L489.3 1081.0L491.5 1079.6L493.7 1078.2L495.9 1076.9L498.1 1075.5L500.4 1074.2L502.6 1072.9L504.8 1071.6L507.0 1070.5L509.2 1069.5L511.4 1068.5L513.7 1067.7L515.9 1067.0L518.1 1066.5L520.3 1066.1L522.5 1065.9L524.7 1065.8L527.0 1066.0L529.2 1066.5L531.4 1067.3L533.6 1068.4L535.8 1069.7L538.0 1071.3L540.2 1073.2L542.5 1075.2L544.7 1077.3L546.9 1079.6L549.1 1082.0L551.3 1084.4L553.5 1086.8L555.8 1089.2L558.0 1091.7L560.2 1094.0L562.4 1096.3L564.6 1098.5L566.8 1100.7L569.1 1102.7L571.3 1104.6L573.5 1106.4L575.7 1108.1L577.9 1109.6L580.1 1111.1L582.4 1112.4L584.6 1113.6L586.8 1114.7L589.0 1115.7L591.2 1116.6L593.4 1117.4L595.6 1118.1L597.9 1118.8L600.1 1119.3L602.3 1119.8L604.5 1120.3L606.7 1120.7L608.9 1121.0L611.2 1121.3L613.4 1121.6L615.6 1121.8L617.8 1122.0L620.0 1122.2L622.2 1122.3L624.5 1122.5L626.7 1122.6L628.9 1122.7L631.1 1122.8L633.3 1122.9L635.5 1123.0L637.8 1123.1L640.0 1123.1L642.2 1123.2L644.4 1123.3"/>
<path d="M35.0 1124.0L37.2 1124.0L39.4 1124.0L41.6 1123.9L43.9 1123.9L46.1 1123.9L48.3 1123.9L50.5 1123.9L52.7 1123.8L54.9 1123.8L57.2 1123.8L59.4 1123.8L61.6 1123.7L63.8 1123.7L66.0 1123.7L68.2 1123.7L70.5 1123.6L72.7 1123.6L74.9 1123.6L77.1 1123.5L79.3 1123.5L81.5 1123.5L83.8 1123.4L86.0 1123.4L88.2 1123.4L90.4 1123.3L92.6 1123.3L94.8 1123.3L97.0 1123.2L99.3 1123.2L101.5 1123.1L103.7 1123.1L105.9 1123.0L108.1 1123.0L110.3 1122.9L112.6 1122.9L114.8 1122.8L117.0 1122.7L119.2 1122.7L121.4 1122.6L123.6 1122.5L125.9 1122.4L128.1 1122.4L130.3 1122.3L132.5 1122.2L134.7 1122.1L136.9 1122.0L139.2 1121.8L141.4 1121.7L143.6 1121.6L145.8 1121.4L148.0 1121.3L150.2 1121.1L152.4 1120.9L154.7 1120.7L156.9 1120.5L159.1 1120.3L161.3 1120.0L163.5 1119.8L165.7 1119.5L168.0 1119.2L170.2 1118.9L172.4 1118.5L174.6 1118.2L176.8 1117.8L179.0 1117.4L181.3 1117.0L183.5 1116.6L185.7 1116.2L187.9 1115.7L190.1 1115.3L192.3 1114.8L194.6 1114.3L196.8 1113.8L199.0 1113.3L201.2 1112.7L203.4 1112.1L205.6 1111.5L207.8 1110.9L210.1 1110.2L212.3 1109.4L214.5 1108.5L216.7 1107.4L218.9 1106.3L221.1 1105.1L223.4 1103.9L225.6 1102.9L227.8 1101.9L230.0 1101.0L232.2 1100.3L234.4 1099.9L236.7 1099.8L238.9 1100.0L241.1 1100.5L243.3 1101.1L245.5 1101.7L247.7 1102.1L250.0 1102.3L252.2 1102.2L254.4 1102.0L256.6 1101.5L258.8 1100.8L261.0 1100.1L263.2 1099.3L265.5 1098.4L267.7 1097.6L269.9 1096.8L272.1 1096.1L274.3 1095.3L276.5 1094.6L278.8 1093.8L281.0 1093.0L283.2 1092.0L285.4 1091.0L287.6 1089.8L289.8 1088.5L292.1 1086.9L294.3 1085.0L296.5 1082.9L298.7 1080.4L300.9 1077.4L303.1 1074.1L305.4 1070.3L307.6 1065.9L309.8 1061.0L312.0 1055.6L314.2 1049.6L316.4 1043.0L318.6 1035.8L320.9 1028.1L323.1 1019.8L325.3 1011.1L327.5 1002.0L329.7 992.5L331.9 982.8L334.2 972.9L336.4 963.0L338.6 953.3L340.8 943.9L343.0 935.0L345.2 926.8L347.5 919.6L349.7 913.4L351.9 908.6L354.1 905.3L356.3 903.6L358.5 903.6L360.8 905.4L363.0 909.0L365.2 914.3L367.4 921.0L369.6 928.9L371.8 937.9L374.0 947.6L376.3 957.9L378.5 968.5L380.7 979.2L382.9 989.9L385.1 1000.4L387.3 1010.5L389.6 1020.2L391.8 1029.3L394.0 1037.9L396.2 1045.8L398.4 1053.0L400.6 1059.6L402.9 1065.4L405.1 1070.6L407.3 1075.1L409.5 1079.0L411.7 1082.3L413.9 1085.0L416.2 1087.3L418.4 1089.1L420.6 1090.6L422.8 1091.7L425.0 1092.5L427.2 1093.1L429.4 1093.5L431.7 1093.7L433.9 1093.8L436.1 1093.8L438.3 1093.7L440.5 1093.6L442.7 1093.4L445.0 1093.3L447.2 1093.2L449.4 1093.0L451.6 1092.9L453.8 1092.7L456.0 1092.5L458.3 1092.2L460.5 1091.9L462.7 1091.5L464.9 1091.0L467.1 1090.4L469.3 1089.7L471.6 1088.9L473.8 1088.0L476.0 1087.0L478.2 1086.0L480.4 1084.8L482.6 1083.6L484.8 1082.3L487.1 1080.9L489.3 1079.5L491.5 1078.1L493.7 1076.7L495.9 1075.2L498.1 1073.8L500.4 1072.4L502.6 1071.1L504.8 1069.8L507.0 1068.7L509.2 1067.6L511.4 1066.6L513.7 1065.8L515.9 1065.0L518.1 1064.5L520.3 1064.1L522.5 1063.9L524.7 1063.8L527.0 1064.0L529.2 1064.5L531.4 1065.3L533.6 1066.4L535.8 1067.8L538.0 1069.5L540.2 1071.4L542.5 1073.5L544.7 1075.7L546.9 1078.1L549.1 1080.5L551.3 1083.0L553.5 1085.5L555.8 1088.0L558.0 1090.5L560.2 1093.0L562.4 1095.4L564.6 1097.6L566.8 1099.9L569.1 1101.9L571.3 1103.9L573.5 1105.8L575.7 1107.5L577.9 1109.1L580.1 1110.6L582.4 1112.0L584.6 1113.3L586.8 1114.4L589.0 1115.4L591.2 1116.4L593.4 1117.2L595.6 1117.9L597.9 1118.6L600.1 1119.2L602.3 1119.7L604.5 1120.1L606.7 1120.5L608.9 1120.9L611.2 1121.2L613.4 1121.5L615.6 1121.7L617.8 1121.9L620.0 1122.1L622.2 1122.3L624.5 1122.4L626.7 1122.5L628.9 1122.7L631.1 1122.8L633.3 1122.9L635.5 1123.0L637.8 1123.0L640.0 1123.1L642.2 1123.2L644.4 1123.2"/>
</g>
<rect x="35" y="591.6" width="607" height="536.7" fill="none" stroke="#333" stroke-width="2.2"/>
<g stroke="#333" stroke-width="2">
<line x1="145.8" y1="1128.3" x2="145.8" y2="1118.3"/>
<line x1="256.6" y1="1128.3" x2="256.6" y2="1118.3"/>
<line x1="367.4" y1="1128.3" x2="367.4" y2="1118.3"/>
<line x1="478.2" y1="1128.3" x2="478.2" y2="1118.3"/>
<line x1="589.0" y1="1128.3" x2="589.0" y2="1118.3"/>
</g>
<text transform="translate(35.0,1164.5) scale(1.060,1)" font-size="26" fill="#222" stroke="#222" stroke-width="0.3" text-anchor="middle">2220</text>
<text transform="translate(145.8,1164.5) scale(1.060,1)" font-size="26" fill="#222" stroke="#222" stroke-width="0.3" text-anchor="middle">2240</text>
<text transform="translate(256.6,1164.5) scale(1.060,1)" font-size="26" fill="#222" stroke="#222" stroke-width="0.3" text-anchor="middle">2260</text>
<text transform="translate(367.4,1164.5) scale(1.060,1)" font-size="26" fill="#222" stroke="#222" stroke-width="0.3" text-anchor="middle">2280</text>
<text transform="translate(478.2,1164.5) scale(1.060,1)" font-size="26" fill="#222" stroke="#222" stroke-width="0.3" text-anchor="middle">2300</text>
<text transform="translate(589.0,1164.5) scale(1.060,1)" font-size="26" fill="#222" stroke="#222" stroke-width="0.3" text-anchor="middle">2320</text>
<text transform="translate(225.0,1199.5) scale(1.050,1)" font-size="26" fill="#222" stroke="#222" stroke-width="0.3">Raman Shift (cm<tspan font-size="17" dy="-13">-1</tspan><tspan dy="13">)</tspan></text>
<text transform="translate(22.8,859.2) rotate(-90) scale(1.080,1)" font-size="26" fill="#222" stroke="#222" stroke-width="0.3" text-anchor="middle">Relative Intensity</text>
<line x1="254.5" y1="671.0" x2="254.5" y2="690.5" stroke="#999" stroke-width="1.6"/>
<polygon points="248.0,689.5 261.0,689.5 254.5,706.6" fill="#111"/>
<line x1="411.2" y1="940.4" x2="411.2" y2="958.0" stroke="#999" stroke-width="1.6"/>
<polygon points="404.7,941.4 417.7,941.4 411.2,925.0" fill="#111"/>
<line x1="599.7" y1="1087.4" x2="599.7" y2="1104.0" stroke="#999" stroke-width="1.6"/>
<polygon points="593.2,1088.4 606.2,1088.4 599.7,1072.0" fill="#111"/>
<g stroke="#c4c4c4" stroke-width="1.3">
<line x1="773.0" y1="442.9" x2="1258.5" y2="442.9"/>
<line x1="773.0" y1="394.4" x2="1258.5" y2="394.4"/>
<line x1="773.0" y1="346.0" x2="1258.5" y2="346.0"/>
<line x1="773.0" y1="297.5" x2="1258.5" y2="297.5"/>
<line x1="870.1" y1="249.0" x2="870.1" y2="491.4"/>
<line x1="967.2" y1="249.0" x2="967.2" y2="491.4"/>
<line x1="1064.3" y1="249.0" x2="1064.3" y2="491.4"/>
<line x1="1161.4" y1="249.0" x2="1161.4" y2="491.4"/>
</g>
<rect x="773.0" y="249.0" width="485.5" height="242.4" fill="none" stroke="#333" stroke-width="2.2"/>
<g stroke="#333" stroke-width="2">
<line x1="870.1" y1="491.4" x2="870.1" y2="481.4"/>
<line x1="967.2" y1="491.4" x2="967.2" y2="481.4"/>
<line x1="1064.3" y1="491.4" x2="1064.3" y2="481.4"/>
<line x1="1161.4" y1="491.4" x2="1161.4" y2="481.4"/>
<line x1="804.3" y1="249.0" x2="804.3" y2="254.0"/>
<line x1="870.1" y1="249.0" x2="870.1" y2="254.0"/>
<line x1="934.8" y1="249.0" x2="934.8" y2="254.0"/>
<line x1="967.2" y1="249.0" x2="967.2" y2="254.0"/>
<line x1="1015.8" y1="249.0" x2="1015.8" y2="254.0"/>
<line x1="1096.7" y1="249.0" x2="1096.7" y2="254.0"/>
<line x1="1258.5" y1="249.0" x2="1258.5" y2="254.0"/>
</g>
<polyline points="796.7,307.2 819.2,304.3 833.7,306.2 861.3,315.4 870.1,318.8 880.9,323.2 894.4,328.0 911.8,334.3 934.9,346.0 967.2,357.6 1015.8,376.5 1050.4,388.6 1058.6,391.5 1096.6,403.7 1126.1,411.9 1161.4,423.0" fill="none" stroke="#2a2a2a" stroke-width="1.4"/>
<g fill="#fff" stroke="#949494" stroke-width="1.3">
<circle cx="796.7" cy="307.2" r="9.5"/>
<circle cx="819.2" cy="304.3" r="9.5"/>
<circle cx="833.7" cy="306.2" r="9.5"/>
<circle cx="861.3" cy="315.4" r="9.5"/>
<circle cx="870.1" cy="318.8" r="9.5"/>
<circle cx="880.9" cy="323.2" r="9.5"/>
<circle cx="894.4" cy="328.0" r="9.5"/>
<circle cx="911.8" cy="334.3" r="9.5"/>
<circle cx="934.9" cy="346.0" r="9.5"/>
<circle cx="967.2" cy="357.6" r="9.5"/>
<circle cx="1015.8" cy="376.5" r="9.5"/>
<circle cx="1050.4" cy="388.6" r="9.5"/>
<circle cx="1058.6" cy="391.5" r="9.5"/>
<circle cx="1096.6" cy="403.7" r="9.5"/>
<circle cx="1126.1" cy="411.9" r="9.5"/>
<circle cx="1161.4" cy="423.0" r="9.5"/>
</g>
<polyline points="796.7,266.9 827.1,318.3 833.7,326.1 861.3,319.8 870.1,322.7 880.9,327.5 894.4,340.1 911.8,348.4 934.9,358.6 967.2,365.8 1015.8,379.9 1050.4,393.0 1058.6,396.9 1096.6,410.0 1126.1,418.7 1161.4,427.9" fill="none" stroke="#2a2a2a" stroke-width="1.4"/>
<g fill="#fff" stroke="#949494" stroke-width="1.3">
<polygon points="796.7,256.9 806.7,266.9 796.7,276.9 786.7,266.9"/>
<polygon points="827.1,308.3 837.1,318.3 827.1,328.3 817.1,318.3"/>
<polygon points="833.7,316.1 843.7,326.1 833.7,336.1 823.7,326.1"/>
<polygon points="861.3,309.8 871.3,319.8 861.3,329.8 851.3,319.8"/>
<polygon points="870.1,312.7 880.1,322.7 870.1,332.7 860.1,322.7"/>
<polygon points="880.9,317.5 890.9,327.5 880.9,337.5 870.9,327.5"/>
<polygon points="894.4,330.1 904.4,340.1 894.4,350.1 884.4,340.1"/>
<polygon points="911.8,338.4 921.8,348.4 911.8,358.4 901.8,348.4"/>
<polygon points="934.9,348.6 944.9,358.6 934.9,368.6 924.9,358.6"/>
<polygon points="967.2,355.8 977.2,365.8 967.2,375.8 957.2,365.8"/>
<polygon points="1015.8,369.9 1025.8,379.9 1015.8,389.9 1005.8,379.9"/>
<polygon points="1050.4,383.0 1060.4,393.0 1050.4,403.0 1040.4,393.0"/>
<polygon points="1058.6,386.9 1068.6,396.9 1058.6,406.9 1048.6,396.9"/>
<polygon points="1096.6,400.0 1106.6,410.0 1096.6,420.0 1086.6,410.0"/>
<polygon points="1126.1,408.7 1136.1,418.7 1126.1,428.7 1116.1,418.7"/>
<polygon points="1161.4,417.9 1171.4,427.9 1161.4,437.9 1151.4,427.9"/>
</g>
<polyline points="796.7,308.1 819.2,325.1 833.7,315.9 861.3,320.3 870.1,332.9 880.9,329.0 894.4,335.3 911.8,337.7 934.9,326.6 967.2,351.8 1015.8,370.7 1050.4,387.2 1058.6,394.9 1096.6,404.6 1126.1,412.9 1161.4,422.1" fill="none" stroke="#2a2a2a" stroke-width="1.6" stroke-dasharray="5,4"/>
<g fill="none" stroke="#949494" stroke-width="1.4">
<polygon points="796.7,298.1 807.2,315.1 786.2,315.1"/>
<polygon points="819.2,315.1 829.7,332.1 808.7,332.1"/>
<polygon points="833.7,305.9 844.2,322.9 823.2,322.9"/>
<polygon points="861.3,310.3 871.8,327.3 850.8,327.3"/>
<polygon points="870.1,322.9 880.6,339.9 859.6,339.9"/>
<polygon points="880.9,319.0 891.4,336.0 870.4,336.0"/>
<polygon points="894.4,325.3 904.9,342.3 883.9,342.3"/>
<polygon points="911.8,327.7 922.3,344.7 901.3,344.7"/>
<polygon points="934.9,316.6 945.4,333.6 924.4,333.6"/>
<polygon points="967.2,341.8 977.7,358.8 956.7,358.8"/>
<polygon points="1015.8,360.7 1026.2,377.7 1005.2,377.7"/>
<polygon points="1050.4,377.2 1060.9,394.2 1039.9,394.2"/>
<polygon points="1058.6,384.9 1069.1,401.9 1048.1,401.9"/>
<polygon points="1096.6,394.6 1107.1,411.6 1086.1,411.6"/>
<polygon points="1126.1,402.9 1136.6,419.9 1115.6,419.9"/>
<polygon points="1161.4,412.1 1171.9,429.1 1150.9,429.1"/>
</g>
<polyline points="801.8,307.2 807.9,306.2 814.0,305.8 820.1,305.8 826.2,306.5 832.3,308.0 838.4,309.9 844.5,312.0 850.6,314.1 856.7,316.1 862.8,318.1 868.9,320.2 875.0,322.5 881.1,324.8 887.2,327.2 893.3,329.7 899.3,332.1 905.4,334.4 911.5,336.8 917.6,339.2 923.7,341.6 929.8,344.0 935.9,346.3 942.0,348.5 948.1,350.7 954.2,352.8 960.3,354.9 966.4,356.9 972.5,359.0 978.6,361.0 984.7,362.9 990.8,364.9 996.9,366.9 1002.9,368.9 1009.0,370.9 1015.1,372.9 1021.2,374.9 1027.3,377.0 1033.4,379.0 1039.5,381.1 1045.6,383.1 1051.7,385.2 1057.8,387.2 1063.9,389.2 1070.0,391.3 1076.1,393.3 1082.2,395.4 1088.3,397.4 1094.4,399.5 1100.5,401.5 1106.6,403.6 1112.6,405.6 1118.7,407.7 1124.8,409.7 1130.9,411.8 1137.0,413.8 1143.1,415.9 1149.2,418.0 1155.3,420.0 1161.4,422.1" fill="none" stroke="#111" stroke-width="3.2" stroke-linejoin="round" stroke-linecap="round"/>
<text transform="translate(802.7,241.3) scale(1.080,1)" font-size="26" fill="#222" stroke="#222" stroke-width="0.3" text-anchor="middle">30</text>
<text transform="translate(867.7,241.3) scale(1.080,1)" font-size="26" fill="#222" stroke="#222" stroke-width="0.3" text-anchor="middle">9</text>
<text transform="translate(933.9,241.3) scale(1.080,1)" font-size="26" fill="#222" stroke="#222" stroke-width="0.3" text-anchor="middle">5</text>
<text transform="translate(965.2,241.3) scale(1.080,1)" font-size="26" fill="#222" stroke="#222" stroke-width="0.3" text-anchor="middle">4</text>
<text transform="translate(1013.9,241.3) scale(1.080,1)" font-size="26" fill="#222" stroke="#222" stroke-width="0.3" text-anchor="middle">3</text>
<text transform="translate(1096.4,241.3) scale(1.080,1)" font-size="26" fill="#222" stroke="#222" stroke-width="0.3" text-anchor="middle">2</text>
<text transform="translate(1253.6,241.3) scale(1.080,1)" font-size="26" fill="#222" stroke="#222" stroke-width="0.3" text-anchor="middle">1</text>
<text transform="translate(1261.5,202.7) scale(1.050,1)" font-size="26" fill="#222" stroke="#222" stroke-width="0.3" text-anchor="end">AN/LiFSI</text>
<text transform="translate(757.0,500.7) scale(1.080,1)" font-size="26" fill="#222" stroke="#222" stroke-width="0.3" text-anchor="end">0</text>
<text transform="translate(757.0,452.2) scale(1.080,1)" font-size="26" fill="#222" stroke="#222" stroke-width="0.3" text-anchor="end">1</text>
<text transform="translate(757.0,403.7) scale(1.080,1)" font-size="26" fill="#222" stroke="#222" stroke-width="0.3" text-anchor="end">2</text>
<text transform="translate(757.0,355.3) scale(1.080,1)" font-size="26" fill="#222" stroke="#222" stroke-width="0.3" text-anchor="end">3</text>
<text transform="translate(757.0,306.8) scale(1.080,1)" font-size="26" fill="#222" stroke="#222" stroke-width="0.3" text-anchor="end">4</text>
<text transform="translate(757.0,258.3) scale(1.080,1)" font-size="26" fill="#222" stroke="#222" stroke-width="0.3" text-anchor="end">5</text>
<text x="717" y="379" font-size="26" font-style="italic" fill="#222" text-anchor="middle">N</text>
<g stroke="#c4c4c4" stroke-width="1.3">
<line x1="773.0" y1="1006.6" x2="1258.5" y2="1006.6"/>
<line x1="773.0" y1="885.6" x2="1258.5" y2="885.6"/>
<line x1="773.0" y1="764.7" x2="1258.5" y2="764.7"/>
<line x1="773.0" y1="643.7" x2="1258.5" y2="643.7"/>
<line x1="870.1" y1="522.7" x2="870.1" y2="1127.6"/>
<line x1="967.2" y1="522.7" x2="967.2" y2="1127.6"/>
<line x1="1064.3" y1="522.7" x2="1064.3" y2="1127.6"/>
<line x1="1161.4" y1="522.7" x2="1161.4" y2="1127.6"/>
</g>
<rect x="773.0" y="522.7" width="485.5" height="604.9" fill="none" stroke="#333" stroke-width="2.2"/>
<g stroke="#333" stroke-width="2">
<line x1="870.1" y1="1127.6" x2="870.1" y2="1117.6"/>
<line x1="967.2" y1="1127.6" x2="967.2" y2="1117.6"/>
<line x1="1064.3" y1="1127.6" x2="1064.3" y2="1117.6"/>
<line x1="1161.4" y1="1127.6" x2="1161.4" y2="1117.6"/>
</g>
<polyline points="773.0,522.7 777.9,536.2 782.7,549.5 787.6,562.5 792.4,575.2 797.3,587.7 802.1,600.0 807.0,612.1 811.8,623.8 816.7,635.1 821.5,645.6 826.4,655.1 831.3,664.6 836.1,675.0 841.0,686.3 845.8,698.1 850.7,710.1 855.5,722.0 860.4,733.6 865.2,744.8 870.1,755.6 875.0,765.7 879.8,775.4 884.7,784.9 889.5,794.4 894.4,804.0 899.2,813.9 904.1,824.0 908.9,834.2 913.8,844.1 918.6,853.7 923.5,862.7 928.4,871.5 933.2,880.0 938.1,888.4 942.9,896.6 947.8,904.6 952.6,912.5 957.5,920.2 962.3,927.8 967.2,935.2 972.1,942.5 976.9,949.7 981.8,956.7 986.6,963.5 991.5,970.2 996.3,976.6 1001.2,983.0 1006.0,989.1 1010.9,995.0 1015.8,1000.6 1020.6,1005.9 1025.5,1010.9 1030.3,1015.9 1035.2,1020.7 1040.0,1025.5 1044.9,1030.3 1049.7,1035.0 1054.6,1039.5 1059.4,1043.8 1064.3,1047.8 1069.2,1051.8 1074.0,1055.6 1078.9,1059.1 1083.7,1062.4 1088.6,1065.5 1093.4,1068.4 1098.3,1071.2 1103.1,1073.8 1108.0,1076.3 1112.8,1078.6 1117.7,1080.8 1122.6,1082.9 1127.4,1084.8 1132.3,1086.7 1137.1,1088.4 1142.0,1090.1 1146.8,1091.6 1151.7,1093.0 1156.5,1094.3 1161.4,1095.5" fill="none" stroke="#111" stroke-width="3.2" stroke-linejoin="round"/>
<polyline points="773.0,1127.6 777.9,1114.1 782.7,1100.8 787.6,1087.8 792.4,1075.1 797.3,1062.6 802.1,1050.3 807.0,1038.2 811.8,1026.5 816.7,1015.2 821.5,1004.7 826.4,995.2 831.3,985.7 836.1,975.3 841.0,964.0 845.8,952.2 850.7,940.2 855.5,928.3 860.4,916.7 865.2,905.5 870.1,894.7 875.0,884.6 879.8,874.9 884.7,865.4 889.5,855.9 894.4,846.3 899.2,836.4 904.1,826.3 908.9,816.1 913.8,806.2 918.6,796.6 923.5,787.6 928.4,778.8 933.2,770.3 938.1,761.9 942.9,753.7 947.8,745.7 952.6,737.8 957.5,730.1 962.3,722.5 967.2,715.1 972.1,707.8 976.9,700.6 981.8,693.6 986.6,686.8 991.5,680.1 996.3,673.7 1001.2,667.3 1006.0,661.2 1010.9,655.3 1015.8,649.7 1020.6,644.4 1025.5,639.4 1030.3,634.4 1035.2,629.6 1040.0,624.8 1044.9,620.0 1049.7,615.3 1054.6,610.8 1059.4,606.5 1064.3,602.5 1069.2,598.5 1074.0,594.7 1078.9,591.2 1083.7,587.9 1088.6,584.8 1093.4,581.9 1098.3,579.1 1103.1,576.5 1108.0,574.0 1112.8,571.7 1117.7,569.5 1122.6,567.4 1127.4,565.5 1132.3,563.6 1137.1,561.9 1142.0,560.2 1146.8,558.7 1151.7,557.3 1156.5,556.0 1161.4,554.8" fill="none" stroke="#111" stroke-width="3.2" stroke-linejoin="round"/>
<polyline points="773.0,522.7 796.7,592.9 819.2,638.8 833.7,660.6 861.3,736.2 870.1,752.6 880.9,778.0 894.4,799.1 911.8,828.8 934.9,863.3 967.2,918.3 1015.8,990.3 1050.4,1019.9 1058.6,1030.2 1096.6,1045.9 1126.1,1062.3 1161.4,1081.0" fill="none" stroke="#2a2a2a" stroke-width="1.4"/>
<g fill="#fff" stroke="#949494" stroke-width="1.3">
<circle cx="773.0" cy="522.7" r="9.5"/>
<circle cx="796.7" cy="592.9" r="9.5"/>
<circle cx="819.2" cy="638.8" r="9.5"/>
<circle cx="833.7" cy="660.6" r="9.5"/>
<circle cx="861.3" cy="736.2" r="9.5"/>
<circle cx="870.1" cy="752.6" r="9.5"/>
<circle cx="880.9" cy="778.0" r="9.5"/>
<circle cx="894.4" cy="799.1" r="9.5"/>
<circle cx="911.8" cy="828.8" r="9.5"/>
<circle cx="934.9" cy="863.3" r="9.5"/>
<circle cx="967.2" cy="918.3" r="9.5"/>
<circle cx="1015.8" cy="990.3" r="9.5"/>
<circle cx="1050.4" cy="1019.9" r="9.5"/>
<circle cx="1058.6" cy="1030.2" r="9.5"/>
<circle cx="1096.6" cy="1045.9" r="9.5"/>
<circle cx="1126.1" cy="1062.3" r="9.5"/>
<circle cx="1161.4" cy="1081.0" r="9.5"/>
</g>
<polyline points="773.0,1127.6 796.7,1057.4 819.2,1012.1 833.7,992.1 861.3,915.9 870.1,898.9 880.9,875.4 894.4,851.2 911.8,827.6 934.9,788.9 967.2,733.8 1015.8,662.4 1050.4,631.0 1058.6,622.5 1096.6,605.6 1126.1,589.8 1161.4,571.1" fill="none" stroke="#2a2a2a" stroke-width="1.4"/>
<g fill="#fff" stroke="#949494" stroke-width="1.3">
<polygon points="773.0,1117.6 783.0,1127.6 773.0,1137.6 763.0,1127.6"/>
<polygon points="796.7,1047.4 806.7,1057.4 796.7,1067.4 786.7,1057.4"/>
<polygon points="819.2,1002.1 829.2,1012.1 819.2,1022.1 809.2,1012.1"/>
<polygon points="833.7,982.1 843.7,992.1 833.7,1002.1 823.7,992.1"/>
<polygon points="861.3,905.9 871.3,915.9 861.3,925.9 851.3,915.9"/>
<polygon points="870.1,888.9 880.1,898.9 870.1,908.9 860.1,898.9"/>
<polygon points="880.9,865.4 890.9,875.4 880.9,885.4 870.9,875.4"/>
<polygon points="894.4,841.2 904.4,851.2 894.4,861.2 884.4,851.2"/>
<polygon points="911.8,817.6 921.8,827.6 911.8,837.6 901.8,827.6"/>
<polygon points="934.9,778.9 944.9,788.9 934.9,798.9 924.9,788.9"/>
<polygon points="967.2,723.8 977.2,733.8 967.2,743.8 957.2,733.8"/>
<polygon points="1015.8,652.4 1025.8,662.4 1015.8,672.4 1005.8,662.4"/>
<polygon points="1050.4,621.0 1060.4,631.0 1050.4,641.0 1040.4,631.0"/>
<polygon points="1058.6,612.5 1068.6,622.5 1058.6,632.5 1048.6,622.5"/>
<polygon points="1096.6,595.6 1106.6,605.6 1096.6,615.6 1086.6,605.6"/>
<polygon points="1126.1,579.8 1136.1,589.8 1126.1,599.8 1116.1,589.8"/>
<polygon points="1161.4,561.1 1171.4,571.1 1161.4,581.1 1151.4,571.1"/>
</g>
<polyline points="773.0,522.7 796.7,583.2 819.2,625.5 833.7,669.7 861.3,740.5 870.1,749.5 880.9,782.8 894.4,801.0 911.8,825.1 934.9,937.1 967.2,970.9 1015.8,1038.7 1050.4,1042.9 1058.6,1044.1 1096.6,1087.1 1126.1,1102.8 1161.4,1113.1" fill="none" stroke="#2a2a2a" stroke-width="1.6" stroke-dasharray="5,4"/>
<g fill="none" stroke="#949494" stroke-width="1.4">
<path d="M763.0 512.7L783.0 532.7M763.0 532.7L783.0 512.7"/>
<path d="M786.7 573.2L806.7 593.2M786.7 593.2L806.7 573.2"/>
<path d="M809.2 615.5L829.2 635.5M809.2 635.5L829.2 615.5"/>
<path d="M823.7 659.7L843.7 679.7M823.7 679.7L843.7 659.7"/>
<path d="M851.3 730.5L871.3 750.5M851.3 750.5L871.3 730.5"/>
<path d="M860.1 739.5L880.1 759.5M860.1 759.5L880.1 739.5"/>
<path d="M870.9 772.8L890.9 792.8M870.9 792.8L890.9 772.8"/>
<path d="M884.4 791.0L904.4 811.0M884.4 811.0L904.4 791.0"/>
<path d="M901.8 815.1L921.8 835.1M901.8 835.1L921.8 815.1"/>
<path d="M924.9 927.1L944.9 947.1M924.9 947.1L944.9 927.1"/>
<path d="M957.2 960.9L977.2 980.9M957.2 980.9L977.2 960.9"/>
<path d="M1005.8 1028.7L1025.8 1048.7M1005.8 1048.7L1025.8 1028.7"/>
<path d="M1040.4 1032.9L1060.4 1052.9M1040.4 1052.9L1060.4 1032.9"/>
<path d="M1048.6 1034.1L1068.6 1054.1M1048.6 1054.1L1068.6 1034.1"/>
<path d="M1086.6 1077.1L1106.6 1097.1M1086.6 1097.1L1106.6 1077.1"/>
<path d="M1116.1 1092.8L1136.1 1112.8M1116.1 1112.8L1136.1 1092.8"/>
<path d="M1151.4 1103.1L1171.4 1123.1M1151.4 1123.1L1171.4 1103.1"/>
</g>
<polyline points="773.0,1127.6 796.7,1072.6 819.2,1025.4 833.7,986.1 861.3,914.1 870.1,903.8 880.9,871.7 894.4,852.4 911.8,811.8 934.9,721.1 967.2,684.8 1015.8,615.9 1050.4,613.4 1058.6,609.2 1096.6,565.6 1126.1,550.5 1161.4,540.2" fill="none" stroke="#2a2a2a" stroke-width="1.6" stroke-dasharray="5,4"/>
<g fill="#fff" stroke="#949494" stroke-width="1.3">
<polygon points="773.0,1117.6 783.5,1134.6 762.5,1134.6"/>
<polygon points="796.7,1062.6 807.2,1079.6 786.2,1079.6"/>
<polygon points="819.2,1015.4 829.7,1032.4 808.7,1032.4"/>
<polygon points="833.7,976.1 844.2,993.1 823.2,993.1"/>
<polygon points="861.3,904.1 871.8,921.1 850.8,921.1"/>
<polygon points="870.1,893.8 880.6,910.8 859.6,910.8"/>
<polygon points="880.9,861.7 891.4,878.7 870.4,878.7"/>
<polygon points="894.4,842.4 904.9,859.4 883.9,859.4"/>
<polygon points="911.8,801.8 922.3,818.8 901.3,818.8"/>
<polygon points="934.9,711.1 945.4,728.1 924.4,728.1"/>
<polygon points="967.2,674.8 977.7,691.8 956.7,691.8"/>
<polygon points="1015.8,605.9 1026.2,622.9 1005.2,622.9"/>
<polygon points="1050.4,603.4 1060.9,620.4 1039.9,620.4"/>
<polygon points="1058.6,599.2 1069.1,616.2 1048.1,616.2"/>
<polygon points="1096.6,555.6 1107.1,572.6 1086.1,572.6"/>
<polygon points="1126.1,540.5 1136.6,557.5 1115.6,557.5"/>
<polygon points="1161.4,530.2 1171.9,547.2 1150.9,547.2"/>
</g>
<rect x="1046.6" y="765.6" width="189.4" height="122.1" fill="#fff" stroke="#333" stroke-width="1.8"/>
<g stroke="#666" stroke-width="1.8" fill="none">
<line x1="1059.3" y1="786.5" x2="1117" y2="786.5"/>
<line x1="1059.3" y1="813.5" x2="1117" y2="813.5"/>
</g>
<g stroke="#555" stroke-width="1.6" fill="none" stroke-dasharray="4,3.5">
<line x1="1064" y1="840.2" x2="1113" y2="840.2"/>
<line x1="1064" y1="867.8" x2="1113" y2="867.8"/>
</g>
<g fill="#fff" stroke="#949494" stroke-width="1.4">
<circle cx="1088.2" cy="786.5" r="10.0"/>
<polygon points="1088.2,803.5 1098.2,813.5 1088.2,823.5 1078.2,813.5"/>
<polygon points="1088.2,859.3 1098.7,876.3 1077.7,876.3"/>
</g>
<g fill="none" stroke="#949494" stroke-width="1.4">
<path d="M1077.7 829.7L1098.7 850.7M1077.7 850.7L1098.7 829.7"/>
</g>
<g font-size="20.2" fill="#222">
<text x="1124" y="794.0">2251+2254</text>
<text x="1124" y="820.7">2277</text>
<text x="1124" y="847.5">918+922</text>
<text x="1124" y="874.6">930</text>
</g>
<text transform="translate(774.5,1168.0) scale(1.100,1)" font-size="26" fill="#222" stroke="#222" stroke-width="0.3" text-anchor="middle">0</text>
<text transform="translate(871.6,1168.0) scale(1.100,1)" font-size="26" fill="#222" stroke="#222" stroke-width="0.3" text-anchor="middle">0.1</text>
<text transform="translate(968.7,1168.0) scale(1.100,1)" font-size="26" fill="#222" stroke="#222" stroke-width="0.3" text-anchor="middle">0.2</text>
<text transform="translate(1065.8,1168.0) scale(1.100,1)" font-size="26" fill="#222" stroke="#222" stroke-width="0.3" text-anchor="middle">0.3</text>
<text transform="translate(1162.9,1168.0) scale(1.100,1)" font-size="26" fill="#222" stroke="#222" stroke-width="0.3" text-anchor="middle">0.4</text>
<text transform="translate(1260.0,1168.0) scale(1.100,1)" font-size="26" fill="#222" stroke="#222" stroke-width="0.3" text-anchor="middle">0.5</text>
<text transform="translate(757.0,1136.9) scale(1.100,1)" font-size="26" fill="#222" stroke="#222" stroke-width="0.3" text-anchor="end">0</text>
<text transform="translate(757.0,1015.9) scale(1.100,1)" font-size="26" fill="#222" stroke="#222" stroke-width="0.3" text-anchor="end">0.2</text>
<text transform="translate(757.0,894.9) scale(1.100,1)" font-size="26" fill="#222" stroke="#222" stroke-width="0.3" text-anchor="end">0.4</text>
<text transform="translate(757.0,774.0) scale(1.100,1)" font-size="26" fill="#222" stroke="#222" stroke-width="0.3" text-anchor="end">0.6</text>
<text transform="translate(757.0,653.0) scale(1.100,1)" font-size="26" fill="#222" stroke="#222" stroke-width="0.3" text-anchor="end">0.8</text>
<text transform="translate(757.0,532.0) scale(1.100,1)" font-size="26" fill="#222" stroke="#222" stroke-width="0.3" text-anchor="end">1</text>
<text x="987.5" y="1200" font-size="26" fill="#222">x<tspan font-size="18" dy="14">LiFSI</tspan></text>
<text x="656.5" y="805" font-size="26" fill="#222">A<tspan font-size="17.5" dy="13.7">peak</tspan></text>
<line x1="675.6" y1="821" x2="713" y2="821" stroke="#222" stroke-width="1.3"/>
<text x="656.5" y="851.3" font-size="26" fill="#222">A<tspan font-size="17.5" dy="13.1">total</tspan></text>
</svg></body></html>
